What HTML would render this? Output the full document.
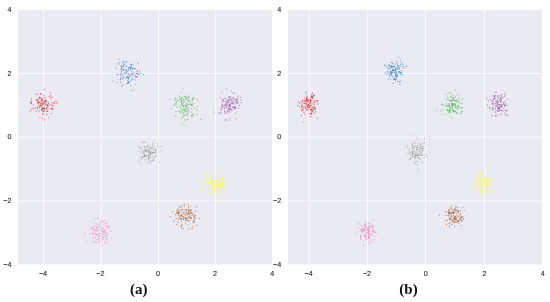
<!DOCTYPE html>
<html><head><meta charset="utf-8"><title>Figure</title>
<style>
html,body{margin:0;padding:0;background:#fff;}
body{width:550px;height:302px;overflow:hidden;}
svg{display:block;}
.t{font-family:"Liberation Sans",sans-serif;font-size:7.2px;fill:#262626;stroke:#262626;stroke-width:0.1px;}
.c{font-family:"Liberation Serif",serif;font-weight:bold;font-size:15px;fill:#111;}
</style></head><body>
<svg width="550" height="302" viewBox="0 0 550 302">
<rect width="550" height="302" fill="#fff"/>
<rect x="18.2" y="10.0" width="254.0" height="254.4" fill="#eaeaf2"/>
<line x1="43.5" x2="43.5" y1="10.0" y2="264.4" stroke="#fff" stroke-opacity="0.78" stroke-width="1"/>
<line x1="100.9" x2="100.9" y1="10.0" y2="264.4" stroke="#fff" stroke-opacity="0.78" stroke-width="1"/>
<line x1="158.5" x2="158.5" y1="10.0" y2="264.4" stroke="#fff" stroke-opacity="0.78" stroke-width="1"/>
<line x1="215.5" x2="215.5" y1="10.0" y2="264.4" stroke="#fff" stroke-opacity="0.78" stroke-width="1"/>
<line x1="18.2" x2="272.2" y1="200.9" y2="200.9" stroke="#fff" stroke-opacity="0.78" stroke-width="1"/>
<line x1="18.2" x2="272.2" y1="137.2" y2="137.2" stroke="#fff" stroke-opacity="0.78" stroke-width="1"/>
<line x1="18.2" x2="272.2" y1="73.4" y2="73.4" stroke="#fff" stroke-opacity="0.78" stroke-width="1"/>
<text x="43.0" y="276" text-anchor="middle" class="t">−4</text>
<text x="11.4" y="266.8" text-anchor="end" class="t">−4</text>
<text x="100.4" y="276" text-anchor="middle" class="t">−2</text>
<text x="11.4" y="203.1" text-anchor="end" class="t">−2</text>
<text x="158.0" y="276" text-anchor="middle" class="t">0</text>
<text x="11.4" y="139.4" text-anchor="end" class="t">0</text>
<text x="215.0" y="276" text-anchor="middle" class="t">2</text>
<text x="11.4" y="75.6" text-anchor="end" class="t">2</text>
<text x="272.2" y="276" text-anchor="middle" class="t">4</text>
<text x="11.4" y="11.9" text-anchor="end" class="t">4</text>
<g fill="#e41a1c" fill-opacity="0.7"><circle cx="45.4" cy="101.0" r="0.6"/><circle cx="40.5" cy="103.1" r="0.6"/><circle cx="31.5" cy="103.0" r="0.6"/><circle cx="44.3" cy="102.3" r="0.6"/><circle cx="41.4" cy="100.4" r="0.6"/><circle cx="37.0" cy="102.1" r="0.6"/><circle cx="45.8" cy="103.0" r="0.6"/><circle cx="48.5" cy="103.2" r="0.6"/><circle cx="43.2" cy="113.8" r="0.6"/><circle cx="46.1" cy="101.4" r="0.6"/><circle cx="42.0" cy="107.7" r="0.6"/><circle cx="54.1" cy="102.8" r="0.6"/><circle cx="41.6" cy="110.5" r="0.6"/><circle cx="38.0" cy="102.7" r="0.6"/><circle cx="48.1" cy="107.9" r="0.6"/><circle cx="43.6" cy="108.5" r="0.6"/><circle cx="37.6" cy="94.3" r="0.6"/><circle cx="44.6" cy="108.7" r="0.6"/><circle cx="40.5" cy="97.9" r="0.6"/><circle cx="43.2" cy="104.1" r="0.6"/><circle cx="51.0" cy="108.9" r="0.6"/><circle cx="44.1" cy="111.2" r="0.6"/><circle cx="41.9" cy="98.8" r="0.6"/><circle cx="46.4" cy="108.0" r="0.6"/><circle cx="41.8" cy="99.7" r="0.6"/><circle cx="44.3" cy="89.3" r="0.6"/><circle cx="47.0" cy="107.4" r="0.6"/><circle cx="33.7" cy="104.8" r="0.6"/><circle cx="37.5" cy="109.0" r="0.6"/><circle cx="31.4" cy="98.9" r="0.6"/><circle cx="47.1" cy="111.4" r="0.6"/><circle cx="30.7" cy="101.4" r="0.6"/><circle cx="44.9" cy="100.7" r="0.6"/><circle cx="52.1" cy="97.2" r="0.6"/><circle cx="45.1" cy="98.1" r="0.6"/><circle cx="51.1" cy="104.3" r="0.6"/><circle cx="40.9" cy="94.0" r="0.6"/><circle cx="52.6" cy="109.0" r="0.6"/><circle cx="47.3" cy="111.3" r="0.6"/><circle cx="45.0" cy="100.6" r="0.6"/><circle cx="38.5" cy="99.6" r="0.6"/><circle cx="50.8" cy="95.6" r="0.6"/><circle cx="39.6" cy="102.5" r="0.6"/><circle cx="44.3" cy="107.9" r="0.6"/><circle cx="35.9" cy="94.0" r="0.6"/><circle cx="43.0" cy="111.8" r="0.6"/><circle cx="47.4" cy="105.7" r="0.6"/><circle cx="41.2" cy="106.2" r="0.6"/><circle cx="41.7" cy="109.4" r="0.6"/><circle cx="38.5" cy="105.2" r="0.6"/><circle cx="42.4" cy="107.7" r="0.6"/><circle cx="44.3" cy="119.9" r="0.6"/><circle cx="51.6" cy="113.5" r="0.6"/><circle cx="31.4" cy="102.4" r="0.6"/><circle cx="39.6" cy="107.6" r="0.6"/><circle cx="30.0" cy="111.5" r="0.6"/><circle cx="49.1" cy="96.5" r="0.6"/><circle cx="37.5" cy="99.6" r="0.6"/><circle cx="43.3" cy="108.3" r="0.6"/><circle cx="54.7" cy="103.2" r="0.6"/><circle cx="47.4" cy="105.4" r="0.6"/><circle cx="53.1" cy="108.9" r="0.6"/><circle cx="50.8" cy="97.9" r="0.6"/><circle cx="41.9" cy="99.5" r="0.6"/><circle cx="51.6" cy="108.4" r="0.6"/><circle cx="41.3" cy="101.7" r="0.6"/><circle cx="45.8" cy="100.2" r="0.6"/><circle cx="37.7" cy="107.3" r="0.6"/><circle cx="57.1" cy="102.9" r="0.6"/><circle cx="39.9" cy="97.3" r="0.6"/><circle cx="35.4" cy="107.6" r="0.6"/><circle cx="47.9" cy="104.5" r="0.6"/><circle cx="44.9" cy="105.1" r="0.6"/><circle cx="43.8" cy="95.2" r="0.6"/><circle cx="40.4" cy="105.1" r="0.6"/><circle cx="38.6" cy="101.5" r="0.6"/><circle cx="38.4" cy="102.4" r="0.6"/><circle cx="47.9" cy="102.0" r="0.6"/><circle cx="42.2" cy="109.4" r="0.6"/><circle cx="46.7" cy="114.7" r="0.6"/><circle cx="31.1" cy="109.6" r="0.6"/><circle cx="40.3" cy="105.2" r="0.6"/><circle cx="47.8" cy="111.0" r="0.6"/><circle cx="49.0" cy="105.4" r="0.6"/><circle cx="52.2" cy="102.7" r="0.6"/><circle cx="42.2" cy="109.3" r="0.6"/><circle cx="39.9" cy="117.5" r="0.6"/><circle cx="48.8" cy="117.6" r="0.6"/><circle cx="42.9" cy="102.1" r="0.6"/><circle cx="44.0" cy="108.9" r="0.6"/><circle cx="39.7" cy="106.7" r="0.6"/><circle cx="42.9" cy="114.2" r="0.6"/><circle cx="39.3" cy="110.8" r="0.6"/><circle cx="39.4" cy="98.6" r="0.6"/><circle cx="39.0" cy="97.2" r="0.6"/><circle cx="43.9" cy="110.7" r="0.6"/><circle cx="44.0" cy="108.2" r="0.6"/><circle cx="52.3" cy="106.1" r="0.6"/><circle cx="44.1" cy="102.8" r="0.6"/><circle cx="33.9" cy="109.0" r="0.6"/><circle cx="33.0" cy="108.4" r="0.6"/><circle cx="43.0" cy="111.2" r="0.6"/><circle cx="42.7" cy="99.4" r="0.6"/><circle cx="45.1" cy="101.0" r="0.6"/><circle cx="42.0" cy="104.7" r="0.6"/><circle cx="42.3" cy="103.3" r="0.6"/><circle cx="38.3" cy="103.3" r="0.6"/><circle cx="30.8" cy="103.5" r="0.6"/><circle cx="36.2" cy="111.2" r="0.6"/><circle cx="50.3" cy="92.6" r="0.6"/><circle cx="43.9" cy="103.7" r="0.6"/><circle cx="37.1" cy="107.6" r="0.6"/><circle cx="40.4" cy="93.7" r="0.6"/><circle cx="41.5" cy="103.5" r="0.6"/><circle cx="43.6" cy="97.0" r="0.6"/><circle cx="46.5" cy="108.9" r="0.6"/><circle cx="36.5" cy="100.4" r="0.6"/><circle cx="42.6" cy="101.0" r="0.6"/><circle cx="53.0" cy="105.7" r="0.6"/><circle cx="37.3" cy="99.7" r="0.6"/><circle cx="42.7" cy="118.3" r="0.6"/><circle cx="42.0" cy="105.2" r="0.6"/><circle cx="46.0" cy="104.2" r="0.6"/><circle cx="56.0" cy="101.2" r="0.6"/><circle cx="47.3" cy="105.4" r="0.6"/></g>
<g fill="#377eb8" fill-opacity="0.7"><circle cx="124.1" cy="63.9" r="0.6"/><circle cx="125.0" cy="69.8" r="0.6"/><circle cx="128.1" cy="83.0" r="0.6"/><circle cx="129.0" cy="77.2" r="0.6"/><circle cx="126.9" cy="71.6" r="0.6"/><circle cx="122.1" cy="62.0" r="0.6"/><circle cx="127.7" cy="83.2" r="0.6"/><circle cx="130.2" cy="69.8" r="0.6"/><circle cx="137.4" cy="70.5" r="0.6"/><circle cx="123.4" cy="65.6" r="0.6"/><circle cx="121.3" cy="71.6" r="0.6"/><circle cx="139.6" cy="71.9" r="0.6"/><circle cx="120.9" cy="69.4" r="0.6"/><circle cx="125.9" cy="62.5" r="0.6"/><circle cx="128.0" cy="77.5" r="0.6"/><circle cx="129.2" cy="76.9" r="0.6"/><circle cx="119.3" cy="62.6" r="0.6"/><circle cx="135.2" cy="79.9" r="0.6"/><circle cx="117.7" cy="74.4" r="0.6"/><circle cx="127.4" cy="76.5" r="0.6"/><circle cx="128.5" cy="70.0" r="0.6"/><circle cx="128.4" cy="74.1" r="0.6"/><circle cx="126.9" cy="61.7" r="0.6"/><circle cx="117.1" cy="74.7" r="0.6"/><circle cx="131.7" cy="74.8" r="0.6"/><circle cx="125.0" cy="73.6" r="0.6"/><circle cx="134.5" cy="68.6" r="0.6"/><circle cx="132.9" cy="77.5" r="0.6"/><circle cx="128.9" cy="82.1" r="0.6"/><circle cx="122.8" cy="79.0" r="0.6"/><circle cx="121.5" cy="68.4" r="0.6"/><circle cx="120.7" cy="75.9" r="0.6"/><circle cx="121.4" cy="73.5" r="0.6"/><circle cx="120.2" cy="79.8" r="0.6"/><circle cx="138.6" cy="74.5" r="0.6"/><circle cx="137.4" cy="76.6" r="0.6"/><circle cx="140.6" cy="73.8" r="0.6"/><circle cx="117.5" cy="82.4" r="0.6"/><circle cx="126.5" cy="66.7" r="0.6"/><circle cx="123.2" cy="63.1" r="0.6"/><circle cx="126.2" cy="66.5" r="0.6"/><circle cx="136.4" cy="77.3" r="0.6"/><circle cx="117.0" cy="63.8" r="0.6"/><circle cx="123.7" cy="61.2" r="0.6"/><circle cx="126.6" cy="72.9" r="0.6"/><circle cx="122.5" cy="69.8" r="0.6"/><circle cx="130.3" cy="82.0" r="0.6"/><circle cx="136.5" cy="73.4" r="0.6"/><circle cx="132.5" cy="68.6" r="0.6"/><circle cx="129.8" cy="67.2" r="0.6"/><circle cx="131.7" cy="65.5" r="0.6"/><circle cx="121.3" cy="73.1" r="0.6"/><circle cx="130.7" cy="64.2" r="0.6"/><circle cx="123.9" cy="74.0" r="0.6"/><circle cx="128.7" cy="67.9" r="0.6"/><circle cx="127.8" cy="71.5" r="0.6"/><circle cx="135.9" cy="76.6" r="0.6"/><circle cx="119.1" cy="59.5" r="0.6"/><circle cx="127.9" cy="80.5" r="0.6"/><circle cx="128.3" cy="78.6" r="0.6"/><circle cx="124.2" cy="64.7" r="0.6"/><circle cx="131.9" cy="73.8" r="0.6"/><circle cx="131.5" cy="64.6" r="0.6"/><circle cx="128.4" cy="69.3" r="0.6"/><circle cx="132.2" cy="69.5" r="0.6"/><circle cx="123.5" cy="69.5" r="0.6"/><circle cx="135.0" cy="73.3" r="0.6"/><circle cx="122.5" cy="66.8" r="0.6"/><circle cx="120.8" cy="82.2" r="0.6"/><circle cx="116.0" cy="67.9" r="0.6"/><circle cx="131.2" cy="80.5" r="0.6"/><circle cx="126.3" cy="78.0" r="0.6"/><circle cx="131.9" cy="79.3" r="0.6"/><circle cx="127.5" cy="83.4" r="0.6"/><circle cx="128.6" cy="82.7" r="0.6"/><circle cx="120.5" cy="79.1" r="0.6"/><circle cx="119.6" cy="64.0" r="0.6"/><circle cx="130.5" cy="68.2" r="0.6"/><circle cx="130.2" cy="66.7" r="0.6"/><circle cx="137.4" cy="73.4" r="0.6"/><circle cx="120.5" cy="74.5" r="0.6"/><circle cx="132.9" cy="68.6" r="0.6"/><circle cx="130.7" cy="86.1" r="0.6"/><circle cx="132.9" cy="73.4" r="0.6"/><circle cx="124.0" cy="77.0" r="0.6"/><circle cx="123.4" cy="66.8" r="0.6"/><circle cx="138.4" cy="74.4" r="0.6"/><circle cx="121.5" cy="66.3" r="0.6"/><circle cx="130.7" cy="68.4" r="0.6"/><circle cx="124.0" cy="73.0" r="0.6"/><circle cx="128.2" cy="74.1" r="0.6"/><circle cx="128.3" cy="81.6" r="0.6"/><circle cx="138.2" cy="63.3" r="0.6"/><circle cx="143.6" cy="74.4" r="0.6"/><circle cx="135.4" cy="69.0" r="0.6"/><circle cx="129.7" cy="74.9" r="0.6"/><circle cx="128.4" cy="78.9" r="0.6"/><circle cx="131.6" cy="67.4" r="0.6"/><circle cx="127.0" cy="78.1" r="0.6"/><circle cx="131.9" cy="71.5" r="0.6"/><circle cx="126.0" cy="72.7" r="0.6"/><circle cx="120.9" cy="65.6" r="0.6"/><circle cx="137.4" cy="71.2" r="0.6"/><circle cx="128.3" cy="69.0" r="0.6"/><circle cx="135.7" cy="84.5" r="0.6"/><circle cx="126.3" cy="76.8" r="0.6"/><circle cx="123.0" cy="84.6" r="0.6"/><circle cx="133.4" cy="68.4" r="0.6"/><circle cx="135.4" cy="75.8" r="0.6"/><circle cx="130.3" cy="75.8" r="0.6"/><circle cx="123.6" cy="70.3" r="0.6"/><circle cx="131.5" cy="73.3" r="0.6"/><circle cx="121.8" cy="86.2" r="0.6"/><circle cx="126.4" cy="70.1" r="0.6"/><circle cx="123.4" cy="77.9" r="0.6"/><circle cx="133.7" cy="75.1" r="0.6"/><circle cx="133.0" cy="64.3" r="0.6"/><circle cx="125.4" cy="70.6" r="0.6"/><circle cx="127.7" cy="76.6" r="0.6"/><circle cx="122.3" cy="75.7" r="0.6"/><circle cx="132.7" cy="78.8" r="0.6"/><circle cx="120.9" cy="78.2" r="0.6"/><circle cx="121.9" cy="66.9" r="0.6"/><circle cx="113.0" cy="81.0" r="0.6"/><circle cx="130.7" cy="67.9" r="0.6"/><circle cx="131.2" cy="90.3" r="0.6"/><circle cx="133.8" cy="89.8" r="0.6"/></g>
<g fill="#4daf4a" fill-opacity="0.7"><circle cx="181.1" cy="99.0" r="0.6"/><circle cx="190.3" cy="102.9" r="0.6"/><circle cx="180.4" cy="112.8" r="0.6"/><circle cx="182.0" cy="110.2" r="0.6"/><circle cx="188.8" cy="101.3" r="0.6"/><circle cx="192.8" cy="99.4" r="0.6"/><circle cx="182.9" cy="105.8" r="0.6"/><circle cx="184.1" cy="110.4" r="0.6"/><circle cx="189.8" cy="104.6" r="0.6"/><circle cx="192.0" cy="100.2" r="0.6"/><circle cx="183.0" cy="116.7" r="0.6"/><circle cx="184.7" cy="112.2" r="0.6"/><circle cx="181.8" cy="103.1" r="0.6"/><circle cx="183.6" cy="106.1" r="0.6"/><circle cx="182.3" cy="105.1" r="0.6"/><circle cx="187.9" cy="113.2" r="0.6"/><circle cx="184.8" cy="109.4" r="0.6"/><circle cx="189.3" cy="97.6" r="0.6"/><circle cx="175.5" cy="116.1" r="0.6"/><circle cx="191.6" cy="105.4" r="0.6"/><circle cx="186.2" cy="98.5" r="0.6"/><circle cx="176.5" cy="107.1" r="0.6"/><circle cx="176.0" cy="111.2" r="0.6"/><circle cx="180.4" cy="107.0" r="0.6"/><circle cx="182.7" cy="112.3" r="0.6"/><circle cx="178.5" cy="101.0" r="0.6"/><circle cx="186.3" cy="114.5" r="0.6"/><circle cx="181.0" cy="108.7" r="0.6"/><circle cx="184.8" cy="96.3" r="0.6"/><circle cx="183.5" cy="115.2" r="0.6"/><circle cx="183.7" cy="108.4" r="0.6"/><circle cx="188.8" cy="99.9" r="0.6"/><circle cx="191.1" cy="115.3" r="0.6"/><circle cx="193.1" cy="113.9" r="0.6"/><circle cx="181.6" cy="100.9" r="0.6"/><circle cx="179.8" cy="98.7" r="0.6"/><circle cx="179.8" cy="111.7" r="0.6"/><circle cx="192.3" cy="100.5" r="0.6"/><circle cx="188.7" cy="96.2" r="0.6"/><circle cx="182.4" cy="98.1" r="0.6"/><circle cx="175.1" cy="105.3" r="0.6"/><circle cx="184.6" cy="102.1" r="0.6"/><circle cx="181.2" cy="98.1" r="0.6"/><circle cx="183.4" cy="100.7" r="0.6"/><circle cx="185.5" cy="96.6" r="0.6"/><circle cx="185.4" cy="108.4" r="0.6"/><circle cx="191.1" cy="112.1" r="0.6"/><circle cx="185.2" cy="100.1" r="0.6"/><circle cx="173.9" cy="104.8" r="0.6"/><circle cx="192.0" cy="116.2" r="0.6"/><circle cx="169.9" cy="99.6" r="0.6"/><circle cx="182.1" cy="97.6" r="0.6"/><circle cx="185.1" cy="105.1" r="0.6"/><circle cx="181.2" cy="104.6" r="0.6"/><circle cx="175.2" cy="98.1" r="0.6"/><circle cx="179.1" cy="111.0" r="0.6"/><circle cx="175.0" cy="103.3" r="0.6"/><circle cx="188.4" cy="104.4" r="0.6"/><circle cx="188.6" cy="100.3" r="0.6"/><circle cx="186.5" cy="111.0" r="0.6"/><circle cx="196.6" cy="109.8" r="0.6"/><circle cx="192.1" cy="104.9" r="0.6"/><circle cx="184.6" cy="115.6" r="0.6"/><circle cx="187.4" cy="114.6" r="0.6"/><circle cx="188.1" cy="119.4" r="0.6"/><circle cx="197.4" cy="99.1" r="0.6"/><circle cx="194.5" cy="107.9" r="0.6"/><circle cx="186.8" cy="104.1" r="0.6"/><circle cx="188.2" cy="97.2" r="0.6"/><circle cx="180.1" cy="99.6" r="0.6"/><circle cx="185.8" cy="111.3" r="0.6"/><circle cx="188.3" cy="107.5" r="0.6"/><circle cx="180.9" cy="92.8" r="0.6"/><circle cx="186.5" cy="105.9" r="0.6"/><circle cx="186.2" cy="114.8" r="0.6"/><circle cx="183.2" cy="103.6" r="0.6"/><circle cx="171.3" cy="108.8" r="0.6"/><circle cx="183.9" cy="99.9" r="0.6"/><circle cx="186.4" cy="97.8" r="0.6"/><circle cx="181.2" cy="118.5" r="0.6"/><circle cx="188.4" cy="111.3" r="0.6"/><circle cx="188.4" cy="109.4" r="0.6"/><circle cx="185.3" cy="120.7" r="0.6"/><circle cx="183.8" cy="110.0" r="0.6"/><circle cx="183.0" cy="102.5" r="0.6"/><circle cx="192.8" cy="115.2" r="0.6"/><circle cx="181.7" cy="104.7" r="0.6"/><circle cx="187.6" cy="98.0" r="0.6"/><circle cx="194.1" cy="97.7" r="0.6"/><circle cx="192.6" cy="105.3" r="0.6"/><circle cx="193.2" cy="98.0" r="0.6"/><circle cx="186.0" cy="105.4" r="0.6"/><circle cx="185.2" cy="119.1" r="0.6"/><circle cx="196.8" cy="114.3" r="0.6"/><circle cx="181.9" cy="111.0" r="0.6"/><circle cx="191.7" cy="108.7" r="0.6"/><circle cx="187.3" cy="108.2" r="0.6"/><circle cx="179.1" cy="106.5" r="0.6"/><circle cx="193.1" cy="98.0" r="0.6"/><circle cx="184.6" cy="110.6" r="0.6"/><circle cx="176.5" cy="103.9" r="0.6"/><circle cx="174.6" cy="100.6" r="0.6"/><circle cx="176.2" cy="98.6" r="0.6"/><circle cx="181.4" cy="102.9" r="0.6"/><circle cx="182.9" cy="88.2" r="0.6"/><circle cx="193.0" cy="102.9" r="0.6"/><circle cx="177.9" cy="100.4" r="0.6"/><circle cx="185.8" cy="97.9" r="0.6"/><circle cx="181.7" cy="101.5" r="0.6"/><circle cx="187.1" cy="99.6" r="0.6"/><circle cx="186.6" cy="107.2" r="0.6"/><circle cx="183.2" cy="113.3" r="0.6"/><circle cx="184.2" cy="96.6" r="0.6"/><circle cx="185.7" cy="105.6" r="0.6"/><circle cx="183.8" cy="106.4" r="0.6"/><circle cx="197.2" cy="106.4" r="0.6"/><circle cx="186.6" cy="103.1" r="0.6"/><circle cx="191.4" cy="104.4" r="0.6"/><circle cx="179.6" cy="96.3" r="0.6"/><circle cx="187.0" cy="109.9" r="0.6"/><circle cx="175.2" cy="99.8" r="0.6"/><circle cx="187.6" cy="111.8" r="0.6"/><circle cx="176.7" cy="101.9" r="0.6"/><circle cx="188.7" cy="101.1" r="0.6"/><circle cx="181.5" cy="101.0" r="0.6"/><circle cx="200.6" cy="119.2" r="0.6"/><circle cx="182.5" cy="124.5" r="0.6"/></g>
<g fill="#984ea3" fill-opacity="0.7"><circle cx="231.1" cy="101.2" r="0.6"/><circle cx="230.0" cy="108.3" r="0.6"/><circle cx="234.2" cy="101.9" r="0.6"/><circle cx="228.7" cy="107.9" r="0.6"/><circle cx="224.8" cy="111.0" r="0.6"/><circle cx="230.4" cy="104.4" r="0.6"/><circle cx="225.0" cy="101.5" r="0.6"/><circle cx="224.6" cy="107.3" r="0.6"/><circle cx="230.9" cy="103.4" r="0.6"/><circle cx="219.8" cy="113.5" r="0.6"/><circle cx="228.8" cy="108.6" r="0.6"/><circle cx="226.8" cy="105.0" r="0.6"/><circle cx="233.8" cy="106.4" r="0.6"/><circle cx="235.2" cy="103.9" r="0.6"/><circle cx="227.4" cy="111.0" r="0.6"/><circle cx="228.9" cy="102.3" r="0.6"/><circle cx="221.1" cy="112.3" r="0.6"/><circle cx="220.4" cy="108.0" r="0.6"/><circle cx="231.2" cy="110.3" r="0.6"/><circle cx="237.7" cy="100.6" r="0.6"/><circle cx="226.0" cy="103.0" r="0.6"/><circle cx="221.3" cy="109.9" r="0.6"/><circle cx="228.1" cy="105.9" r="0.6"/><circle cx="224.3" cy="104.9" r="0.6"/><circle cx="226.9" cy="104.4" r="0.6"/><circle cx="224.5" cy="111.1" r="0.6"/><circle cx="226.7" cy="89.2" r="0.6"/><circle cx="233.4" cy="103.0" r="0.6"/><circle cx="225.5" cy="120.1" r="0.6"/><circle cx="229.8" cy="96.6" r="0.6"/><circle cx="226.9" cy="107.1" r="0.6"/><circle cx="228.9" cy="112.3" r="0.6"/><circle cx="235.5" cy="99.9" r="0.6"/><circle cx="230.2" cy="108.7" r="0.6"/><circle cx="227.9" cy="101.9" r="0.6"/><circle cx="234.5" cy="107.5" r="0.6"/><circle cx="222.8" cy="101.4" r="0.6"/><circle cx="227.9" cy="104.0" r="0.6"/><circle cx="226.3" cy="112.9" r="0.6"/><circle cx="225.0" cy="98.1" r="0.6"/><circle cx="231.1" cy="91.0" r="0.6"/><circle cx="224.7" cy="108.6" r="0.6"/><circle cx="223.2" cy="99.6" r="0.6"/><circle cx="235.6" cy="107.6" r="0.6"/><circle cx="230.3" cy="106.3" r="0.6"/><circle cx="226.6" cy="106.7" r="0.6"/><circle cx="229.0" cy="120.1" r="0.6"/><circle cx="232.8" cy="102.8" r="0.6"/><circle cx="229.8" cy="105.2" r="0.6"/><circle cx="223.0" cy="99.8" r="0.6"/><circle cx="237.9" cy="96.3" r="0.6"/><circle cx="227.1" cy="111.1" r="0.6"/><circle cx="237.9" cy="98.6" r="0.6"/><circle cx="237.6" cy="102.7" r="0.6"/><circle cx="238.6" cy="107.9" r="0.6"/><circle cx="228.7" cy="109.3" r="0.6"/><circle cx="233.0" cy="100.2" r="0.6"/><circle cx="241.2" cy="102.8" r="0.6"/><circle cx="236.1" cy="102.0" r="0.6"/><circle cx="220.8" cy="98.1" r="0.6"/><circle cx="229.7" cy="109.1" r="0.6"/><circle cx="239.2" cy="105.4" r="0.6"/><circle cx="228.7" cy="97.4" r="0.6"/><circle cx="229.9" cy="106.8" r="0.6"/><circle cx="218.8" cy="112.9" r="0.6"/><circle cx="236.0" cy="118.8" r="0.6"/><circle cx="225.5" cy="105.2" r="0.6"/><circle cx="230.2" cy="96.8" r="0.6"/><circle cx="225.8" cy="98.9" r="0.6"/><circle cx="232.8" cy="107.5" r="0.6"/><circle cx="237.1" cy="102.4" r="0.6"/><circle cx="223.0" cy="107.6" r="0.6"/><circle cx="232.0" cy="109.0" r="0.6"/><circle cx="236.5" cy="101.3" r="0.6"/><circle cx="234.2" cy="98.8" r="0.6"/><circle cx="230.9" cy="109.1" r="0.6"/><circle cx="229.5" cy="106.2" r="0.6"/><circle cx="223.0" cy="100.9" r="0.6"/><circle cx="230.9" cy="97.5" r="0.6"/><circle cx="225.7" cy="119.7" r="0.6"/><circle cx="231.4" cy="99.8" r="0.6"/><circle cx="224.8" cy="113.2" r="0.6"/><circle cx="233.0" cy="101.0" r="0.6"/><circle cx="232.4" cy="98.0" r="0.6"/><circle cx="229.6" cy="104.6" r="0.6"/><circle cx="229.7" cy="105.2" r="0.6"/><circle cx="229.8" cy="111.1" r="0.6"/><circle cx="228.3" cy="100.7" r="0.6"/><circle cx="228.1" cy="102.4" r="0.6"/><circle cx="221.8" cy="92.6" r="0.6"/><circle cx="222.6" cy="105.9" r="0.6"/><circle cx="226.1" cy="101.7" r="0.6"/><circle cx="228.5" cy="100.3" r="0.6"/><circle cx="236.6" cy="99.4" r="0.6"/><circle cx="235.9" cy="107.8" r="0.6"/><circle cx="236.7" cy="99.8" r="0.6"/><circle cx="234.2" cy="93.1" r="0.6"/><circle cx="228.7" cy="110.8" r="0.6"/><circle cx="233.1" cy="93.0" r="0.6"/><circle cx="233.1" cy="107.0" r="0.6"/><circle cx="229.2" cy="99.8" r="0.6"/><circle cx="228.1" cy="100.7" r="0.6"/><circle cx="234.4" cy="107.0" r="0.6"/><circle cx="235.0" cy="108.4" r="0.6"/><circle cx="222.9" cy="105.0" r="0.6"/><circle cx="240.5" cy="97.4" r="0.6"/><circle cx="231.0" cy="99.4" r="0.6"/><circle cx="224.9" cy="105.4" r="0.6"/><circle cx="234.2" cy="108.8" r="0.6"/><circle cx="231.9" cy="110.0" r="0.6"/><circle cx="221.1" cy="109.1" r="0.6"/><circle cx="231.6" cy="103.0" r="0.6"/><circle cx="229.5" cy="98.9" r="0.6"/><circle cx="235.5" cy="99.5" r="0.6"/><circle cx="221.9" cy="104.1" r="0.6"/><circle cx="226.5" cy="103.7" r="0.6"/><circle cx="237.3" cy="103.3" r="0.6"/><circle cx="230.1" cy="118.0" r="0.6"/><circle cx="222.3" cy="106.4" r="0.6"/><circle cx="235.5" cy="113.4" r="0.6"/><circle cx="241.1" cy="100.2" r="0.6"/><circle cx="232.7" cy="103.6" r="0.6"/><circle cx="227.2" cy="99.8" r="0.6"/><circle cx="222.0" cy="106.2" r="0.6"/><circle cx="233.4" cy="97.7" r="0.6"/><circle cx="214.2" cy="112.0" r="0.6"/></g>
<g fill="#999999" fill-opacity="0.7"><circle cx="141.0" cy="148.7" r="0.6"/><circle cx="152.7" cy="156.1" r="0.6"/><circle cx="149.0" cy="152.8" r="0.6"/><circle cx="147.2" cy="150.3" r="0.6"/><circle cx="142.8" cy="156.5" r="0.6"/><circle cx="154.9" cy="148.2" r="0.6"/><circle cx="141.8" cy="164.3" r="0.6"/><circle cx="153.8" cy="152.0" r="0.6"/><circle cx="145.0" cy="151.4" r="0.6"/><circle cx="146.3" cy="151.4" r="0.6"/><circle cx="144.2" cy="156.1" r="0.6"/><circle cx="145.1" cy="141.9" r="0.6"/><circle cx="141.2" cy="152.8" r="0.6"/><circle cx="156.1" cy="155.7" r="0.6"/><circle cx="145.5" cy="149.5" r="0.6"/><circle cx="150.8" cy="160.9" r="0.6"/><circle cx="144.7" cy="155.1" r="0.6"/><circle cx="144.6" cy="154.6" r="0.6"/><circle cx="141.9" cy="141.6" r="0.6"/><circle cx="148.4" cy="152.2" r="0.6"/><circle cx="151.8" cy="148.6" r="0.6"/><circle cx="155.3" cy="153.2" r="0.6"/><circle cx="156.2" cy="150.6" r="0.6"/><circle cx="156.0" cy="152.2" r="0.6"/><circle cx="148.7" cy="158.4" r="0.6"/><circle cx="138.5" cy="146.2" r="0.6"/><circle cx="157.8" cy="143.6" r="0.6"/><circle cx="145.3" cy="155.9" r="0.6"/><circle cx="155.8" cy="149.6" r="0.6"/><circle cx="148.7" cy="145.8" r="0.6"/><circle cx="145.9" cy="158.8" r="0.6"/><circle cx="149.7" cy="152.5" r="0.6"/><circle cx="150.3" cy="153.5" r="0.6"/><circle cx="148.9" cy="150.6" r="0.6"/><circle cx="142.8" cy="156.7" r="0.6"/><circle cx="141.9" cy="158.8" r="0.6"/><circle cx="159.4" cy="161.8" r="0.6"/><circle cx="160.4" cy="146.5" r="0.6"/><circle cx="149.4" cy="147.8" r="0.6"/><circle cx="144.1" cy="142.5" r="0.6"/><circle cx="141.6" cy="157.9" r="0.6"/><circle cx="151.9" cy="160.0" r="0.6"/><circle cx="154.2" cy="157.5" r="0.6"/><circle cx="143.9" cy="152.2" r="0.6"/><circle cx="152.1" cy="160.4" r="0.6"/><circle cx="146.2" cy="149.9" r="0.6"/><circle cx="145.9" cy="162.5" r="0.6"/><circle cx="151.3" cy="151.1" r="0.6"/><circle cx="144.2" cy="155.6" r="0.6"/><circle cx="139.3" cy="151.6" r="0.6"/><circle cx="145.3" cy="149.5" r="0.6"/><circle cx="149.4" cy="155.5" r="0.6"/><circle cx="152.0" cy="148.2" r="0.6"/><circle cx="139.5" cy="159.9" r="0.6"/><circle cx="158.8" cy="147.1" r="0.6"/><circle cx="148.0" cy="159.7" r="0.6"/><circle cx="148.9" cy="138.8" r="0.6"/><circle cx="153.8" cy="152.3" r="0.6"/><circle cx="152.3" cy="147.4" r="0.6"/><circle cx="153.1" cy="159.3" r="0.6"/><circle cx="144.6" cy="156.1" r="0.6"/><circle cx="145.0" cy="150.1" r="0.6"/><circle cx="143.6" cy="150.5" r="0.6"/><circle cx="144.8" cy="160.1" r="0.6"/><circle cx="147.2" cy="146.4" r="0.6"/><circle cx="155.7" cy="156.4" r="0.6"/><circle cx="153.7" cy="152.8" r="0.6"/><circle cx="152.1" cy="152.6" r="0.6"/><circle cx="143.4" cy="153.8" r="0.6"/><circle cx="149.2" cy="154.0" r="0.6"/><circle cx="152.9" cy="142.9" r="0.6"/><circle cx="150.1" cy="148.4" r="0.6"/><circle cx="147.0" cy="155.9" r="0.6"/><circle cx="148.9" cy="149.2" r="0.6"/><circle cx="152.5" cy="152.9" r="0.6"/><circle cx="153.5" cy="160.6" r="0.6"/><circle cx="146.7" cy="146.8" r="0.6"/><circle cx="149.0" cy="158.2" r="0.6"/><circle cx="150.3" cy="146.4" r="0.6"/><circle cx="139.6" cy="147.7" r="0.6"/><circle cx="143.6" cy="157.1" r="0.6"/><circle cx="149.0" cy="158.6" r="0.6"/><circle cx="148.2" cy="163.3" r="0.6"/><circle cx="148.7" cy="156.7" r="0.6"/><circle cx="146.5" cy="156.1" r="0.6"/><circle cx="154.4" cy="158.0" r="0.6"/><circle cx="155.4" cy="149.8" r="0.6"/><circle cx="151.1" cy="163.6" r="0.6"/><circle cx="150.0" cy="152.5" r="0.6"/><circle cx="147.5" cy="150.3" r="0.6"/><circle cx="149.5" cy="161.7" r="0.6"/><circle cx="151.1" cy="153.3" r="0.6"/><circle cx="144.5" cy="146.7" r="0.6"/><circle cx="161.3" cy="150.7" r="0.6"/><circle cx="149.2" cy="150.6" r="0.6"/><circle cx="149.6" cy="150.9" r="0.6"/><circle cx="149.2" cy="162.0" r="0.6"/><circle cx="144.8" cy="156.5" r="0.6"/><circle cx="148.3" cy="157.6" r="0.6"/><circle cx="145.0" cy="155.7" r="0.6"/><circle cx="143.4" cy="142.6" r="0.6"/><circle cx="141.7" cy="147.6" r="0.6"/><circle cx="142.6" cy="151.3" r="0.6"/><circle cx="154.2" cy="146.5" r="0.6"/><circle cx="150.8" cy="154.0" r="0.6"/><circle cx="144.7" cy="147.6" r="0.6"/><circle cx="150.6" cy="155.9" r="0.6"/><circle cx="146.6" cy="152.2" r="0.6"/><circle cx="148.3" cy="145.3" r="0.6"/><circle cx="148.9" cy="154.9" r="0.6"/><circle cx="157.5" cy="145.6" r="0.6"/><circle cx="143.8" cy="153.5" r="0.6"/><circle cx="145.3" cy="150.7" r="0.6"/><circle cx="148.4" cy="151.3" r="0.6"/><circle cx="148.2" cy="155.6" r="0.6"/><circle cx="139.9" cy="156.3" r="0.6"/><circle cx="153.2" cy="149.5" r="0.6"/><circle cx="153.7" cy="152.2" r="0.6"/><circle cx="150.6" cy="157.5" r="0.6"/><circle cx="150.2" cy="153.1" r="0.6"/><circle cx="151.6" cy="152.0" r="0.6"/><circle cx="146.4" cy="147.6" r="0.6"/><circle cx="139.0" cy="162.4" r="0.6"/><circle cx="152.5" cy="145.0" r="0.6"/><circle cx="150.5" cy="154.3" r="0.6"/></g>
<g fill="#ffff33" fill-opacity="0.7"><circle cx="217.9" cy="168.8" r="0.6"/><circle cx="211.8" cy="175.0" r="0.6"/><circle cx="200.3" cy="190.9" r="0.6"/><circle cx="221.7" cy="181.0" r="0.6"/><circle cx="210.5" cy="192.6" r="0.6"/><circle cx="222.5" cy="183.6" r="0.6"/><circle cx="220.2" cy="184.3" r="0.6"/><circle cx="211.8" cy="187.6" r="0.6"/><circle cx="211.0" cy="187.5" r="0.6"/><circle cx="212.3" cy="180.7" r="0.6"/><circle cx="210.0" cy="186.6" r="0.6"/><circle cx="220.6" cy="186.4" r="0.6"/><circle cx="207.9" cy="187.6" r="0.6"/><circle cx="207.7" cy="176.4" r="0.6"/><circle cx="212.6" cy="188.9" r="0.6"/><circle cx="218.9" cy="187.3" r="0.6"/><circle cx="223.7" cy="189.2" r="0.6"/><circle cx="211.6" cy="188.8" r="0.6"/><circle cx="212.2" cy="186.3" r="0.6"/><circle cx="218.3" cy="183.3" r="0.6"/><circle cx="203.8" cy="182.9" r="0.6"/><circle cx="212.1" cy="183.2" r="0.6"/><circle cx="211.3" cy="176.7" r="0.6"/><circle cx="203.1" cy="188.2" r="0.6"/><circle cx="219.9" cy="186.4" r="0.6"/><circle cx="214.1" cy="196.5" r="0.6"/><circle cx="219.1" cy="184.2" r="0.6"/><circle cx="220.2" cy="183.6" r="0.6"/><circle cx="219.4" cy="185.9" r="0.6"/><circle cx="218.3" cy="184.5" r="0.6"/><circle cx="211.4" cy="187.4" r="0.6"/><circle cx="222.4" cy="178.3" r="0.6"/><circle cx="210.9" cy="177.2" r="0.6"/><circle cx="220.7" cy="182.8" r="0.6"/><circle cx="220.8" cy="179.2" r="0.6"/><circle cx="220.4" cy="180.6" r="0.6"/><circle cx="211.4" cy="187.7" r="0.6"/><circle cx="211.9" cy="180.4" r="0.6"/><circle cx="220.9" cy="183.8" r="0.6"/><circle cx="210.8" cy="182.1" r="0.6"/><circle cx="204.1" cy="176.8" r="0.6"/><circle cx="218.9" cy="186.2" r="0.6"/><circle cx="216.6" cy="187.2" r="0.6"/><circle cx="208.8" cy="173.6" r="0.6"/><circle cx="222.2" cy="185.9" r="0.6"/><circle cx="222.6" cy="184.1" r="0.6"/><circle cx="220.0" cy="181.0" r="0.6"/><circle cx="214.7" cy="183.3" r="0.6"/><circle cx="217.3" cy="193.2" r="0.6"/><circle cx="214.0" cy="184.4" r="0.6"/><circle cx="220.3" cy="185.2" r="0.6"/><circle cx="209.9" cy="179.3" r="0.6"/><circle cx="212.4" cy="179.8" r="0.6"/><circle cx="224.7" cy="188.2" r="0.6"/><circle cx="215.2" cy="190.5" r="0.6"/><circle cx="229.7" cy="183.0" r="0.6"/><circle cx="214.6" cy="182.5" r="0.6"/><circle cx="206.3" cy="180.4" r="0.6"/><circle cx="208.3" cy="187.4" r="0.6"/><circle cx="217.9" cy="189.9" r="0.6"/><circle cx="209.4" cy="190.7" r="0.6"/><circle cx="208.1" cy="183.2" r="0.6"/><circle cx="223.8" cy="192.2" r="0.6"/><circle cx="222.4" cy="197.8" r="0.6"/><circle cx="222.1" cy="182.9" r="0.6"/><circle cx="213.4" cy="179.6" r="0.6"/><circle cx="216.5" cy="179.7" r="0.6"/><circle cx="210.6" cy="178.3" r="0.6"/><circle cx="221.1" cy="171.3" r="0.6"/><circle cx="218.0" cy="180.9" r="0.6"/><circle cx="200.1" cy="183.1" r="0.6"/><circle cx="216.4" cy="188.2" r="0.6"/><circle cx="222.6" cy="179.1" r="0.6"/><circle cx="214.6" cy="188.7" r="0.6"/><circle cx="218.7" cy="187.0" r="0.6"/><circle cx="215.7" cy="192.4" r="0.6"/><circle cx="206.2" cy="175.1" r="0.6"/><circle cx="227.1" cy="187.2" r="0.6"/><circle cx="222.7" cy="186.0" r="0.6"/><circle cx="212.5" cy="181.7" r="0.6"/><circle cx="216.0" cy="181.6" r="0.6"/><circle cx="214.6" cy="184.1" r="0.6"/><circle cx="220.8" cy="189.7" r="0.6"/><circle cx="226.2" cy="180.2" r="0.6"/><circle cx="214.9" cy="190.8" r="0.6"/><circle cx="217.7" cy="169.3" r="0.6"/><circle cx="217.8" cy="184.8" r="0.6"/><circle cx="212.0" cy="182.2" r="0.6"/><circle cx="210.4" cy="192.3" r="0.6"/><circle cx="220.1" cy="186.3" r="0.6"/><circle cx="223.2" cy="190.9" r="0.6"/><circle cx="209.8" cy="178.3" r="0.6"/><circle cx="208.5" cy="189.8" r="0.6"/><circle cx="215.4" cy="192.7" r="0.6"/><circle cx="219.2" cy="183.8" r="0.6"/><circle cx="206.9" cy="183.5" r="0.6"/><circle cx="231.1" cy="180.8" r="0.6"/><circle cx="210.0" cy="183.8" r="0.6"/><circle cx="225.1" cy="184.9" r="0.6"/><circle cx="208.1" cy="181.3" r="0.6"/><circle cx="214.8" cy="185.7" r="0.6"/><circle cx="225.1" cy="189.2" r="0.6"/><circle cx="215.6" cy="180.1" r="0.6"/><circle cx="219.7" cy="193.3" r="0.6"/><circle cx="221.4" cy="184.4" r="0.6"/><circle cx="220.3" cy="183.8" r="0.6"/><circle cx="214.6" cy="183.7" r="0.6"/><circle cx="216.2" cy="184.7" r="0.6"/><circle cx="222.6" cy="185.2" r="0.6"/><circle cx="215.0" cy="191.7" r="0.6"/><circle cx="220.4" cy="192.2" r="0.6"/><circle cx="210.3" cy="193.3" r="0.6"/><circle cx="215.5" cy="178.4" r="0.6"/><circle cx="214.4" cy="177.3" r="0.6"/><circle cx="208.6" cy="182.4" r="0.6"/><circle cx="222.0" cy="176.5" r="0.6"/><circle cx="217.4" cy="183.3" r="0.6"/><circle cx="226.1" cy="186.1" r="0.6"/><circle cx="219.5" cy="193.7" r="0.6"/><circle cx="207.9" cy="182.7" r="0.6"/><circle cx="205.1" cy="179.6" r="0.6"/><circle cx="217.5" cy="183.8" r="0.6"/><circle cx="218.0" cy="182.3" r="0.6"/><circle cx="210.5" cy="183.9" r="0.6"/><circle cx="209.2" cy="177.7" r="0.6"/></g>
<g fill="#a65628" fill-opacity="0.7"><circle cx="181.9" cy="214.3" r="0.6"/><circle cx="180.9" cy="207.5" r="0.6"/><circle cx="178.1" cy="212.7" r="0.6"/><circle cx="186.7" cy="218.9" r="0.6"/><circle cx="196.7" cy="225.3" r="0.6"/><circle cx="182.8" cy="210.8" r="0.6"/><circle cx="191.2" cy="209.9" r="0.6"/><circle cx="193.5" cy="220.8" r="0.6"/><circle cx="180.9" cy="219.2" r="0.6"/><circle cx="195.5" cy="217.6" r="0.6"/><circle cx="185.0" cy="214.1" r="0.6"/><circle cx="189.7" cy="210.9" r="0.6"/><circle cx="188.9" cy="213.7" r="0.6"/><circle cx="182.4" cy="209.6" r="0.6"/><circle cx="190.3" cy="210.0" r="0.6"/><circle cx="188.2" cy="204.7" r="0.6"/><circle cx="185.7" cy="215.7" r="0.6"/><circle cx="189.0" cy="220.4" r="0.6"/><circle cx="190.1" cy="218.2" r="0.6"/><circle cx="185.2" cy="209.3" r="0.6"/><circle cx="179.8" cy="210.8" r="0.6"/><circle cx="188.4" cy="220.8" r="0.6"/><circle cx="189.0" cy="216.2" r="0.6"/><circle cx="191.5" cy="213.3" r="0.6"/><circle cx="188.0" cy="214.5" r="0.6"/><circle cx="188.2" cy="213.9" r="0.6"/><circle cx="179.1" cy="213.0" r="0.6"/><circle cx="182.0" cy="224.8" r="0.6"/><circle cx="195.5" cy="211.6" r="0.6"/><circle cx="181.7" cy="215.2" r="0.6"/><circle cx="177.8" cy="222.0" r="0.6"/><circle cx="186.5" cy="212.4" r="0.6"/><circle cx="193.1" cy="222.2" r="0.6"/><circle cx="187.7" cy="220.6" r="0.6"/><circle cx="176.7" cy="210.7" r="0.6"/><circle cx="181.6" cy="205.9" r="0.6"/><circle cx="192.0" cy="228.4" r="0.6"/><circle cx="178.7" cy="211.8" r="0.6"/><circle cx="193.1" cy="213.3" r="0.6"/><circle cx="186.6" cy="210.4" r="0.6"/><circle cx="188.7" cy="209.4" r="0.6"/><circle cx="191.2" cy="217.8" r="0.6"/><circle cx="188.9" cy="210.6" r="0.6"/><circle cx="185.3" cy="217.5" r="0.6"/><circle cx="181.2" cy="209.4" r="0.6"/><circle cx="172.9" cy="211.8" r="0.6"/><circle cx="185.7" cy="220.1" r="0.6"/><circle cx="179.3" cy="206.7" r="0.6"/><circle cx="193.9" cy="220.9" r="0.6"/><circle cx="179.7" cy="212.0" r="0.6"/><circle cx="175.6" cy="214.4" r="0.6"/><circle cx="194.4" cy="219.2" r="0.6"/><circle cx="180.2" cy="216.4" r="0.6"/><circle cx="182.2" cy="216.6" r="0.6"/><circle cx="183.3" cy="218.3" r="0.6"/><circle cx="194.2" cy="216.6" r="0.6"/><circle cx="188.8" cy="217.0" r="0.6"/><circle cx="191.9" cy="212.5" r="0.6"/><circle cx="185.6" cy="214.0" r="0.6"/><circle cx="194.6" cy="215.8" r="0.6"/><circle cx="190.1" cy="212.8" r="0.6"/><circle cx="178.5" cy="213.2" r="0.6"/><circle cx="189.5" cy="213.2" r="0.6"/><circle cx="183.2" cy="212.8" r="0.6"/><circle cx="189.8" cy="217.3" r="0.6"/><circle cx="186.7" cy="209.6" r="0.6"/><circle cx="185.6" cy="218.3" r="0.6"/><circle cx="188.5" cy="207.2" r="0.6"/><circle cx="194.6" cy="215.3" r="0.6"/><circle cx="181.3" cy="219.1" r="0.6"/><circle cx="183.2" cy="216.6" r="0.6"/><circle cx="178.7" cy="213.9" r="0.6"/><circle cx="190.6" cy="212.2" r="0.6"/><circle cx="178.2" cy="210.3" r="0.6"/><circle cx="190.7" cy="206.0" r="0.6"/><circle cx="178.3" cy="219.1" r="0.6"/><circle cx="187.3" cy="214.5" r="0.6"/><circle cx="183.9" cy="217.0" r="0.6"/><circle cx="191.5" cy="217.3" r="0.6"/><circle cx="176.1" cy="218.3" r="0.6"/><circle cx="176.6" cy="224.3" r="0.6"/><circle cx="183.9" cy="218.2" r="0.6"/><circle cx="188.5" cy="211.2" r="0.6"/><circle cx="193.8" cy="216.1" r="0.6"/><circle cx="199.4" cy="218.6" r="0.6"/><circle cx="188.7" cy="228.9" r="0.6"/><circle cx="195.1" cy="215.1" r="0.6"/><circle cx="182.0" cy="225.8" r="0.6"/><circle cx="194.2" cy="221.9" r="0.6"/><circle cx="184.9" cy="211.7" r="0.6"/><circle cx="181.5" cy="221.5" r="0.6"/><circle cx="185.9" cy="218.8" r="0.6"/><circle cx="173.8" cy="220.8" r="0.6"/><circle cx="179.1" cy="217.3" r="0.6"/><circle cx="178.4" cy="215.6" r="0.6"/><circle cx="177.2" cy="212.4" r="0.6"/><circle cx="180.3" cy="215.3" r="0.6"/><circle cx="177.5" cy="212.8" r="0.6"/><circle cx="181.3" cy="215.4" r="0.6"/><circle cx="186.0" cy="220.3" r="0.6"/><circle cx="187.9" cy="224.6" r="0.6"/><circle cx="176.7" cy="213.3" r="0.6"/><circle cx="191.2" cy="215.3" r="0.6"/><circle cx="170.5" cy="216.6" r="0.6"/><circle cx="183.5" cy="228.6" r="0.6"/><circle cx="185.9" cy="218.6" r="0.6"/><circle cx="180.7" cy="218.7" r="0.6"/><circle cx="184.2" cy="205.8" r="0.6"/><circle cx="192.5" cy="214.9" r="0.6"/><circle cx="196.7" cy="206.8" r="0.6"/><circle cx="181.5" cy="218.5" r="0.6"/><circle cx="183.5" cy="219.5" r="0.6"/><circle cx="190.6" cy="210.6" r="0.6"/><circle cx="187.4" cy="217.9" r="0.6"/><circle cx="188.1" cy="213.7" r="0.6"/><circle cx="183.7" cy="213.6" r="0.6"/><circle cx="192.7" cy="226.6" r="0.6"/><circle cx="178.0" cy="209.2" r="0.6"/><circle cx="185.7" cy="223.1" r="0.6"/><circle cx="181.4" cy="228.1" r="0.6"/><circle cx="190.9" cy="218.4" r="0.6"/><circle cx="184.2" cy="204.4" r="0.6"/><circle cx="188.5" cy="212.8" r="0.6"/><circle cx="194.0" cy="218.3" r="0.6"/><circle cx="181.1" cy="226.2" r="0.6"/></g>
<g fill="#f781bf" fill-opacity="0.7"><circle cx="97.3" cy="234.1" r="0.6"/><circle cx="107.0" cy="222.8" r="0.6"/><circle cx="93.6" cy="241.7" r="0.6"/><circle cx="106.5" cy="242.7" r="0.6"/><circle cx="99.1" cy="238.3" r="0.6"/><circle cx="84.4" cy="234.5" r="0.6"/><circle cx="93.3" cy="222.5" r="0.6"/><circle cx="92.5" cy="238.1" r="0.6"/><circle cx="108.4" cy="228.5" r="0.6"/><circle cx="97.1" cy="239.3" r="0.6"/><circle cx="95.1" cy="233.3" r="0.6"/><circle cx="103.1" cy="239.4" r="0.6"/><circle cx="98.0" cy="236.1" r="0.6"/><circle cx="96.4" cy="228.0" r="0.6"/><circle cx="93.4" cy="234.5" r="0.6"/><circle cx="100.3" cy="233.4" r="0.6"/><circle cx="99.3" cy="239.9" r="0.6"/><circle cx="101.3" cy="231.2" r="0.6"/><circle cx="92.4" cy="229.0" r="0.6"/><circle cx="99.3" cy="241.2" r="0.6"/><circle cx="102.3" cy="229.6" r="0.6"/><circle cx="104.0" cy="235.8" r="0.6"/><circle cx="96.6" cy="234.7" r="0.6"/><circle cx="92.6" cy="232.4" r="0.6"/><circle cx="111.8" cy="238.1" r="0.6"/><circle cx="103.2" cy="237.4" r="0.6"/><circle cx="103.7" cy="224.3" r="0.6"/><circle cx="96.6" cy="227.4" r="0.6"/><circle cx="102.3" cy="237.7" r="0.6"/><circle cx="112.0" cy="230.9" r="0.6"/><circle cx="92.5" cy="233.7" r="0.6"/><circle cx="99.2" cy="233.5" r="0.6"/><circle cx="99.6" cy="235.1" r="0.6"/><circle cx="95.9" cy="233.8" r="0.6"/><circle cx="105.5" cy="233.0" r="0.6"/><circle cx="102.9" cy="227.8" r="0.6"/><circle cx="104.8" cy="231.2" r="0.6"/><circle cx="95.5" cy="230.5" r="0.6"/><circle cx="97.1" cy="230.8" r="0.6"/><circle cx="96.1" cy="242.8" r="0.6"/><circle cx="105.0" cy="234.9" r="0.6"/><circle cx="102.3" cy="231.3" r="0.6"/><circle cx="104.5" cy="230.4" r="0.6"/><circle cx="99.0" cy="226.9" r="0.6"/><circle cx="106.8" cy="239.4" r="0.6"/><circle cx="106.1" cy="239.0" r="0.6"/><circle cx="84.9" cy="232.4" r="0.6"/><circle cx="105.6" cy="235.0" r="0.6"/><circle cx="89.8" cy="233.7" r="0.6"/><circle cx="103.5" cy="228.3" r="0.6"/><circle cx="92.3" cy="227.8" r="0.6"/><circle cx="94.0" cy="229.5" r="0.6"/><circle cx="98.1" cy="230.9" r="0.6"/><circle cx="108.7" cy="226.0" r="0.6"/><circle cx="97.6" cy="217.7" r="0.6"/><circle cx="94.9" cy="219.0" r="0.6"/><circle cx="103.6" cy="231.1" r="0.6"/><circle cx="95.2" cy="236.9" r="0.6"/><circle cx="92.6" cy="230.1" r="0.6"/><circle cx="93.9" cy="225.3" r="0.6"/><circle cx="97.5" cy="227.4" r="0.6"/><circle cx="98.0" cy="224.2" r="0.6"/><circle cx="89.4" cy="240.0" r="0.6"/><circle cx="101.3" cy="229.0" r="0.6"/><circle cx="100.3" cy="224.9" r="0.6"/><circle cx="101.3" cy="222.0" r="0.6"/><circle cx="101.9" cy="233.8" r="0.6"/><circle cx="98.7" cy="236.1" r="0.6"/><circle cx="98.6" cy="242.3" r="0.6"/><circle cx="103.0" cy="221.7" r="0.6"/><circle cx="93.0" cy="242.1" r="0.6"/><circle cx="95.8" cy="233.8" r="0.6"/><circle cx="95.8" cy="241.3" r="0.6"/><circle cx="105.9" cy="236.8" r="0.6"/><circle cx="96.8" cy="229.7" r="0.6"/><circle cx="107.8" cy="228.2" r="0.6"/><circle cx="86.2" cy="241.8" r="0.6"/><circle cx="105.4" cy="223.4" r="0.6"/><circle cx="101.1" cy="235.7" r="0.6"/><circle cx="100.8" cy="242.5" r="0.6"/><circle cx="107.1" cy="226.8" r="0.6"/><circle cx="98.6" cy="237.9" r="0.6"/><circle cx="105.3" cy="229.7" r="0.6"/><circle cx="106.5" cy="226.6" r="0.6"/><circle cx="104.6" cy="220.5" r="0.6"/><circle cx="102.5" cy="245.2" r="0.6"/><circle cx="108.8" cy="226.6" r="0.6"/><circle cx="106.1" cy="232.6" r="0.6"/><circle cx="101.0" cy="222.9" r="0.6"/><circle cx="96.1" cy="223.5" r="0.6"/><circle cx="91.4" cy="228.1" r="0.6"/><circle cx="108.0" cy="234.0" r="0.6"/><circle cx="94.5" cy="230.6" r="0.6"/><circle cx="93.4" cy="227.8" r="0.6"/><circle cx="100.3" cy="221.8" r="0.6"/><circle cx="100.9" cy="227.4" r="0.6"/><circle cx="105.8" cy="225.4" r="0.6"/><circle cx="100.4" cy="225.9" r="0.6"/><circle cx="102.2" cy="220.1" r="0.6"/><circle cx="95.8" cy="225.8" r="0.6"/><circle cx="89.2" cy="229.0" r="0.6"/><circle cx="97.8" cy="227.5" r="0.6"/><circle cx="92.7" cy="226.9" r="0.6"/><circle cx="94.5" cy="238.2" r="0.6"/><circle cx="102.3" cy="240.0" r="0.6"/><circle cx="104.9" cy="243.3" r="0.6"/><circle cx="99.6" cy="233.6" r="0.6"/><circle cx="100.0" cy="229.4" r="0.6"/><circle cx="103.6" cy="234.5" r="0.6"/><circle cx="102.7" cy="233.8" r="0.6"/><circle cx="106.1" cy="223.1" r="0.6"/><circle cx="103.3" cy="231.9" r="0.6"/><circle cx="95.9" cy="230.1" r="0.6"/><circle cx="102.9" cy="237.5" r="0.6"/><circle cx="98.5" cy="236.8" r="0.6"/><circle cx="102.1" cy="238.9" r="0.6"/><circle cx="106.1" cy="237.2" r="0.6"/><circle cx="97.7" cy="225.2" r="0.6"/><circle cx="108.4" cy="227.1" r="0.6"/><circle cx="105.0" cy="232.8" r="0.6"/><circle cx="110.0" cy="231.6" r="0.6"/><circle cx="98.1" cy="219.2" r="0.6"/><circle cx="103.7" cy="232.3" r="0.6"/><circle cx="96.3" cy="229.8" r="0.6"/><circle cx="107.7" cy="234.9" r="0.6"/></g>
<rect x="288.0" y="10.0" width="254.0" height="254.4" fill="#eaeaf2"/>
<line x1="309.1" x2="309.1" y1="10.0" y2="264.4" stroke="#fff" stroke-opacity="0.78" stroke-width="1"/>
<line x1="367.5" x2="367.5" y1="10.0" y2="264.4" stroke="#fff" stroke-opacity="0.78" stroke-width="1"/>
<line x1="425.5" x2="425.5" y1="10.0" y2="264.4" stroke="#fff" stroke-opacity="0.78" stroke-width="1"/>
<line x1="484.5" x2="484.5" y1="10.0" y2="264.4" stroke="#fff" stroke-opacity="0.78" stroke-width="1"/>
<line x1="288.0" x2="542.0" y1="200.9" y2="200.9" stroke="#fff" stroke-opacity="0.78" stroke-width="1"/>
<line x1="288.0" x2="542.0" y1="137.2" y2="137.2" stroke="#fff" stroke-opacity="0.78" stroke-width="1"/>
<line x1="288.0" x2="542.0" y1="73.4" y2="73.4" stroke="#fff" stroke-opacity="0.78" stroke-width="1"/>
<text x="308.6" y="276" text-anchor="middle" class="t">−4</text>
<text x="281.2" y="266.8" text-anchor="end" class="t">−4</text>
<text x="367.0" y="276" text-anchor="middle" class="t">−2</text>
<text x="281.2" y="203.1" text-anchor="end" class="t">−2</text>
<text x="425.8" y="276" text-anchor="middle" class="t">0</text>
<text x="281.2" y="139.4" text-anchor="end" class="t">0</text>
<text x="484.4" y="276" text-anchor="middle" class="t">2</text>
<text x="281.2" y="75.6" text-anchor="end" class="t">2</text>
<text x="542.7" y="276" text-anchor="middle" class="t">4</text>
<text x="281.2" y="11.9" text-anchor="end" class="t">4</text>
<g fill="#e41a1c" fill-opacity="0.7"><circle cx="311.7" cy="94.8" r="0.6"/><circle cx="317.9" cy="100.7" r="0.6"/><circle cx="301.9" cy="107.9" r="0.6"/><circle cx="312.8" cy="111.6" r="0.6"/><circle cx="310.5" cy="101.1" r="0.6"/><circle cx="307.6" cy="105.5" r="0.6"/><circle cx="312.0" cy="109.9" r="0.6"/><circle cx="311.3" cy="109.3" r="0.6"/><circle cx="298.8" cy="101.9" r="0.6"/><circle cx="313.3" cy="102.3" r="0.6"/><circle cx="308.0" cy="101.0" r="0.6"/><circle cx="307.7" cy="101.3" r="0.6"/><circle cx="299.6" cy="106.8" r="0.6"/><circle cx="310.1" cy="100.0" r="0.6"/><circle cx="299.5" cy="102.9" r="0.6"/><circle cx="302.8" cy="109.9" r="0.6"/><circle cx="307.0" cy="96.0" r="0.6"/><circle cx="305.0" cy="114.1" r="0.6"/><circle cx="307.2" cy="100.0" r="0.6"/><circle cx="306.7" cy="98.1" r="0.6"/><circle cx="311.6" cy="96.8" r="0.6"/><circle cx="310.4" cy="109.9" r="0.6"/><circle cx="311.9" cy="103.8" r="0.6"/><circle cx="306.2" cy="104.7" r="0.6"/><circle cx="309.2" cy="107.5" r="0.6"/><circle cx="308.1" cy="105.9" r="0.6"/><circle cx="306.2" cy="100.3" r="0.6"/><circle cx="312.9" cy="106.9" r="0.6"/><circle cx="311.2" cy="113.5" r="0.6"/><circle cx="305.1" cy="101.4" r="0.6"/><circle cx="306.6" cy="109.3" r="0.6"/><circle cx="302.1" cy="101.1" r="0.6"/><circle cx="311.6" cy="96.4" r="0.6"/><circle cx="311.2" cy="113.2" r="0.6"/><circle cx="310.0" cy="100.3" r="0.6"/><circle cx="306.3" cy="99.5" r="0.6"/><circle cx="307.9" cy="109.8" r="0.6"/><circle cx="312.6" cy="92.9" r="0.6"/><circle cx="305.0" cy="106.5" r="0.6"/><circle cx="306.8" cy="91.8" r="0.6"/><circle cx="309.2" cy="107.6" r="0.6"/><circle cx="308.3" cy="104.4" r="0.6"/><circle cx="312.3" cy="97.2" r="0.6"/><circle cx="307.0" cy="106.9" r="0.6"/><circle cx="311.6" cy="114.0" r="0.6"/><circle cx="311.6" cy="109.4" r="0.6"/><circle cx="313.7" cy="95.4" r="0.6"/><circle cx="310.5" cy="102.4" r="0.6"/><circle cx="314.9" cy="107.1" r="0.6"/><circle cx="309.4" cy="105.8" r="0.6"/><circle cx="303.0" cy="109.8" r="0.6"/><circle cx="301.4" cy="103.8" r="0.6"/><circle cx="306.8" cy="110.1" r="0.6"/><circle cx="308.4" cy="100.3" r="0.6"/><circle cx="311.3" cy="114.1" r="0.6"/><circle cx="304.0" cy="112.3" r="0.6"/><circle cx="305.5" cy="103.7" r="0.6"/><circle cx="307.5" cy="99.3" r="0.6"/><circle cx="315.3" cy="109.1" r="0.6"/><circle cx="311.0" cy="97.7" r="0.6"/><circle cx="311.2" cy="100.2" r="0.6"/><circle cx="314.3" cy="95.5" r="0.6"/><circle cx="311.5" cy="96.6" r="0.6"/><circle cx="302.0" cy="106.1" r="0.6"/><circle cx="312.1" cy="110.9" r="0.6"/><circle cx="306.7" cy="102.0" r="0.6"/><circle cx="312.4" cy="98.7" r="0.6"/><circle cx="303.5" cy="107.7" r="0.6"/><circle cx="310.4" cy="105.4" r="0.6"/><circle cx="313.8" cy="96.1" r="0.6"/><circle cx="310.4" cy="116.7" r="0.6"/><circle cx="306.6" cy="98.2" r="0.6"/><circle cx="313.8" cy="107.9" r="0.6"/><circle cx="313.7" cy="108.8" r="0.6"/><circle cx="306.5" cy="103.9" r="0.6"/><circle cx="304.5" cy="103.2" r="0.6"/><circle cx="305.6" cy="107.4" r="0.6"/><circle cx="314.6" cy="102.3" r="0.6"/><circle cx="310.4" cy="109.0" r="0.6"/><circle cx="318.0" cy="103.9" r="0.6"/><circle cx="309.7" cy="113.9" r="0.6"/><circle cx="302.3" cy="105.0" r="0.6"/><circle cx="308.9" cy="99.1" r="0.6"/><circle cx="307.6" cy="106.2" r="0.6"/><circle cx="313.3" cy="110.0" r="0.6"/><circle cx="306.2" cy="100.1" r="0.6"/><circle cx="312.6" cy="96.9" r="0.6"/><circle cx="306.2" cy="99.0" r="0.6"/><circle cx="301.7" cy="106.4" r="0.6"/><circle cx="302.3" cy="101.6" r="0.6"/><circle cx="313.8" cy="113.2" r="0.6"/><circle cx="302.6" cy="100.0" r="0.6"/><circle cx="304.7" cy="97.8" r="0.6"/><circle cx="314.0" cy="109.6" r="0.6"/><circle cx="310.5" cy="99.7" r="0.6"/><circle cx="311.6" cy="105.9" r="0.6"/><circle cx="308.2" cy="107.9" r="0.6"/><circle cx="314.2" cy="104.5" r="0.6"/><circle cx="306.6" cy="99.4" r="0.6"/><circle cx="314.4" cy="107.4" r="0.6"/><circle cx="298.0" cy="105.6" r="0.6"/><circle cx="311.8" cy="96.4" r="0.6"/><circle cx="302.0" cy="110.4" r="0.6"/><circle cx="307.1" cy="97.0" r="0.6"/><circle cx="308.5" cy="106.7" r="0.6"/><circle cx="304.2" cy="100.6" r="0.6"/><circle cx="308.4" cy="104.4" r="0.6"/><circle cx="315.8" cy="111.8" r="0.6"/><circle cx="310.5" cy="101.2" r="0.6"/><circle cx="305.7" cy="92.9" r="0.6"/><circle cx="308.0" cy="102.6" r="0.6"/><circle cx="305.4" cy="108.6" r="0.6"/><circle cx="313.6" cy="95.0" r="0.6"/><circle cx="310.0" cy="107.1" r="0.6"/><circle cx="305.6" cy="101.0" r="0.6"/><circle cx="315.6" cy="108.6" r="0.6"/><circle cx="317.3" cy="100.7" r="0.6"/><circle cx="303.8" cy="103.3" r="0.6"/><circle cx="311.9" cy="111.7" r="0.6"/><circle cx="316.6" cy="101.4" r="0.6"/><circle cx="302.1" cy="110.0" r="0.6"/><circle cx="312.1" cy="107.8" r="0.6"/><circle cx="314.5" cy="100.5" r="0.6"/><circle cx="301.4" cy="115.7" r="0.6"/><circle cx="309.6" cy="103.2" r="0.6"/><circle cx="303.0" cy="122.0" r="0.6"/><circle cx="317.2" cy="118.2" r="0.6"/></g>
<g fill="#377eb8" fill-opacity="0.7"><circle cx="397.1" cy="74.0" r="0.6"/><circle cx="398.9" cy="66.1" r="0.6"/><circle cx="405.9" cy="66.5" r="0.6"/><circle cx="388.0" cy="68.1" r="0.6"/><circle cx="384.7" cy="65.5" r="0.6"/><circle cx="391.7" cy="71.1" r="0.6"/><circle cx="400.7" cy="72.8" r="0.6"/><circle cx="392.7" cy="70.7" r="0.6"/><circle cx="388.1" cy="78.8" r="0.6"/><circle cx="395.3" cy="73.1" r="0.6"/><circle cx="391.5" cy="65.6" r="0.6"/><circle cx="389.1" cy="65.4" r="0.6"/><circle cx="391.2" cy="75.2" r="0.6"/><circle cx="390.5" cy="73.8" r="0.6"/><circle cx="398.4" cy="72.6" r="0.6"/><circle cx="398.5" cy="57.3" r="0.6"/><circle cx="395.6" cy="67.9" r="0.6"/><circle cx="401.1" cy="72.6" r="0.6"/><circle cx="392.6" cy="70.8" r="0.6"/><circle cx="395.4" cy="80.7" r="0.6"/><circle cx="392.4" cy="72.3" r="0.6"/><circle cx="391.6" cy="72.2" r="0.6"/><circle cx="396.3" cy="71.8" r="0.6"/><circle cx="393.7" cy="79.5" r="0.6"/><circle cx="400.0" cy="73.6" r="0.6"/><circle cx="391.6" cy="73.4" r="0.6"/><circle cx="395.3" cy="76.2" r="0.6"/><circle cx="397.5" cy="67.2" r="0.6"/><circle cx="397.6" cy="81.6" r="0.6"/><circle cx="397.5" cy="64.8" r="0.6"/><circle cx="392.5" cy="76.6" r="0.6"/><circle cx="401.1" cy="62.5" r="0.6"/><circle cx="400.2" cy="80.9" r="0.6"/><circle cx="402.4" cy="63.8" r="0.6"/><circle cx="395.1" cy="79.1" r="0.6"/><circle cx="398.9" cy="69.3" r="0.6"/><circle cx="390.2" cy="71.1" r="0.6"/><circle cx="397.8" cy="65.7" r="0.6"/><circle cx="394.2" cy="78.7" r="0.6"/><circle cx="401.7" cy="72.5" r="0.6"/><circle cx="401.9" cy="70.6" r="0.6"/><circle cx="391.8" cy="67.5" r="0.6"/><circle cx="389.5" cy="68.6" r="0.6"/><circle cx="393.2" cy="83.4" r="0.6"/><circle cx="399.9" cy="84.2" r="0.6"/><circle cx="389.8" cy="75.3" r="0.6"/><circle cx="392.6" cy="63.0" r="0.6"/><circle cx="397.8" cy="67.3" r="0.6"/><circle cx="395.3" cy="70.5" r="0.6"/><circle cx="391.3" cy="62.4" r="0.6"/><circle cx="393.5" cy="66.3" r="0.6"/><circle cx="395.6" cy="69.1" r="0.6"/><circle cx="396.3" cy="73.9" r="0.6"/><circle cx="400.7" cy="64.5" r="0.6"/><circle cx="390.7" cy="79.2" r="0.6"/><circle cx="399.3" cy="66.9" r="0.6"/><circle cx="392.6" cy="69.0" r="0.6"/><circle cx="397.0" cy="63.1" r="0.6"/><circle cx="394.5" cy="72.1" r="0.6"/><circle cx="400.4" cy="59.8" r="0.6"/><circle cx="391.0" cy="67.1" r="0.6"/><circle cx="399.4" cy="81.8" r="0.6"/><circle cx="403.0" cy="66.6" r="0.6"/><circle cx="395.5" cy="69.6" r="0.6"/><circle cx="394.2" cy="66.5" r="0.6"/><circle cx="395.3" cy="70.1" r="0.6"/><circle cx="397.2" cy="69.6" r="0.6"/><circle cx="391.4" cy="67.3" r="0.6"/><circle cx="395.3" cy="76.0" r="0.6"/><circle cx="396.3" cy="79.1" r="0.6"/><circle cx="394.2" cy="66.6" r="0.6"/><circle cx="407.1" cy="66.0" r="0.6"/><circle cx="386.9" cy="66.7" r="0.6"/><circle cx="395.5" cy="78.9" r="0.6"/><circle cx="393.1" cy="69.3" r="0.6"/><circle cx="395.9" cy="75.4" r="0.6"/><circle cx="390.4" cy="72.5" r="0.6"/><circle cx="391.7" cy="73.3" r="0.6"/><circle cx="397.1" cy="76.7" r="0.6"/><circle cx="403.8" cy="67.9" r="0.6"/><circle cx="390.1" cy="71.8" r="0.6"/><circle cx="395.0" cy="71.3" r="0.6"/><circle cx="399.0" cy="72.0" r="0.6"/><circle cx="399.3" cy="71.5" r="0.6"/><circle cx="394.3" cy="66.4" r="0.6"/><circle cx="398.3" cy="71.5" r="0.6"/><circle cx="401.0" cy="74.9" r="0.6"/><circle cx="392.2" cy="72.5" r="0.6"/><circle cx="394.3" cy="70.4" r="0.6"/><circle cx="387.9" cy="72.3" r="0.6"/><circle cx="395.2" cy="64.2" r="0.6"/><circle cx="396.2" cy="73.1" r="0.6"/><circle cx="389.1" cy="64.6" r="0.6"/><circle cx="396.0" cy="75.3" r="0.6"/><circle cx="396.1" cy="60.9" r="0.6"/><circle cx="389.2" cy="73.9" r="0.6"/><circle cx="389.5" cy="76.8" r="0.6"/><circle cx="400.1" cy="66.2" r="0.6"/><circle cx="395.8" cy="74.8" r="0.6"/><circle cx="396.9" cy="68.3" r="0.6"/><circle cx="393.5" cy="70.3" r="0.6"/><circle cx="402.5" cy="74.5" r="0.6"/><circle cx="400.3" cy="72.2" r="0.6"/><circle cx="397.3" cy="75.7" r="0.6"/><circle cx="393.7" cy="66.7" r="0.6"/><circle cx="396.5" cy="68.5" r="0.6"/><circle cx="391.8" cy="66.5" r="0.6"/><circle cx="387.6" cy="71.5" r="0.6"/><circle cx="389.8" cy="66.4" r="0.6"/><circle cx="392.9" cy="63.9" r="0.6"/><circle cx="397.1" cy="75.7" r="0.6"/><circle cx="388.9" cy="68.7" r="0.6"/><circle cx="393.3" cy="69.3" r="0.6"/><circle cx="394.8" cy="72.7" r="0.6"/><circle cx="391.3" cy="74.8" r="0.6"/><circle cx="384.9" cy="64.9" r="0.6"/><circle cx="399.0" cy="68.3" r="0.6"/><circle cx="396.2" cy="77.3" r="0.6"/><circle cx="402.9" cy="64.6" r="0.6"/><circle cx="390.7" cy="66.6" r="0.6"/><circle cx="390.9" cy="72.3" r="0.6"/><circle cx="384.9" cy="73.1" r="0.6"/><circle cx="394.2" cy="78.9" r="0.6"/><circle cx="386.8" cy="74.2" r="0.6"/><circle cx="392.5" cy="66.7" r="0.6"/></g>
<g fill="#4daf4a" fill-opacity="0.7"><circle cx="446.0" cy="94.1" r="0.6"/><circle cx="447.4" cy="105.9" r="0.6"/><circle cx="454.2" cy="104.2" r="0.6"/><circle cx="461.0" cy="103.7" r="0.6"/><circle cx="446.5" cy="103.8" r="0.6"/><circle cx="455.8" cy="107.0" r="0.6"/><circle cx="453.0" cy="112.1" r="0.6"/><circle cx="456.4" cy="113.6" r="0.6"/><circle cx="449.4" cy="106.9" r="0.6"/><circle cx="452.7" cy="105.6" r="0.6"/><circle cx="460.6" cy="107.8" r="0.6"/><circle cx="454.1" cy="98.2" r="0.6"/><circle cx="450.5" cy="108.2" r="0.6"/><circle cx="452.6" cy="99.4" r="0.6"/><circle cx="454.9" cy="105.0" r="0.6"/><circle cx="457.0" cy="109.1" r="0.6"/><circle cx="456.8" cy="100.2" r="0.6"/><circle cx="449.0" cy="110.7" r="0.6"/><circle cx="455.3" cy="103.7" r="0.6"/><circle cx="462.4" cy="107.8" r="0.6"/><circle cx="452.6" cy="108.4" r="0.6"/><circle cx="450.4" cy="110.0" r="0.6"/><circle cx="453.4" cy="105.1" r="0.6"/><circle cx="445.9" cy="99.5" r="0.6"/><circle cx="450.8" cy="92.8" r="0.6"/><circle cx="448.2" cy="105.6" r="0.6"/><circle cx="452.1" cy="118.2" r="0.6"/><circle cx="442.5" cy="104.2" r="0.6"/><circle cx="450.2" cy="107.0" r="0.6"/><circle cx="450.7" cy="100.7" r="0.6"/><circle cx="452.9" cy="103.6" r="0.6"/><circle cx="462.2" cy="103.2" r="0.6"/><circle cx="454.2" cy="110.6" r="0.6"/><circle cx="454.0" cy="104.2" r="0.6"/><circle cx="451.6" cy="104.1" r="0.6"/><circle cx="447.9" cy="105.7" r="0.6"/><circle cx="459.8" cy="113.8" r="0.6"/><circle cx="447.9" cy="110.2" r="0.6"/><circle cx="452.0" cy="104.4" r="0.6"/><circle cx="450.8" cy="110.3" r="0.6"/><circle cx="447.7" cy="100.1" r="0.6"/><circle cx="457.9" cy="95.0" r="0.6"/><circle cx="449.5" cy="107.8" r="0.6"/><circle cx="451.7" cy="103.5" r="0.6"/><circle cx="461.0" cy="113.1" r="0.6"/><circle cx="453.8" cy="111.3" r="0.6"/><circle cx="451.9" cy="103.5" r="0.6"/><circle cx="457.9" cy="113.5" r="0.6"/><circle cx="446.5" cy="114.5" r="0.6"/><circle cx="462.2" cy="111.2" r="0.6"/><circle cx="446.8" cy="110.0" r="0.6"/><circle cx="449.3" cy="112.8" r="0.6"/><circle cx="452.3" cy="105.1" r="0.6"/><circle cx="448.1" cy="105.2" r="0.6"/><circle cx="453.1" cy="97.5" r="0.6"/><circle cx="449.4" cy="99.7" r="0.6"/><circle cx="457.2" cy="106.5" r="0.6"/><circle cx="449.8" cy="111.6" r="0.6"/><circle cx="452.7" cy="104.1" r="0.6"/><circle cx="450.2" cy="112.3" r="0.6"/><circle cx="452.7" cy="95.2" r="0.6"/><circle cx="449.1" cy="103.7" r="0.6"/><circle cx="440.9" cy="110.9" r="0.6"/><circle cx="458.2" cy="100.0" r="0.6"/><circle cx="457.1" cy="108.3" r="0.6"/><circle cx="453.2" cy="100.2" r="0.6"/><circle cx="460.9" cy="107.4" r="0.6"/><circle cx="448.6" cy="110.1" r="0.6"/><circle cx="452.7" cy="100.3" r="0.6"/><circle cx="455.6" cy="107.5" r="0.6"/><circle cx="442.7" cy="105.1" r="0.6"/><circle cx="454.0" cy="110.6" r="0.6"/><circle cx="457.5" cy="106.2" r="0.6"/><circle cx="453.5" cy="98.7" r="0.6"/><circle cx="451.5" cy="101.1" r="0.6"/><circle cx="456.1" cy="112.4" r="0.6"/><circle cx="449.3" cy="92.4" r="0.6"/><circle cx="453.6" cy="111.3" r="0.6"/><circle cx="450.8" cy="96.9" r="0.6"/><circle cx="455.2" cy="100.4" r="0.6"/><circle cx="452.4" cy="104.1" r="0.6"/><circle cx="455.5" cy="97.2" r="0.6"/><circle cx="457.9" cy="107.1" r="0.6"/><circle cx="462.4" cy="99.2" r="0.6"/><circle cx="441.5" cy="104.5" r="0.6"/><circle cx="445.0" cy="105.3" r="0.6"/><circle cx="442.3" cy="109.9" r="0.6"/><circle cx="452.3" cy="109.2" r="0.6"/><circle cx="451.3" cy="97.1" r="0.6"/><circle cx="457.0" cy="112.5" r="0.6"/><circle cx="459.3" cy="102.1" r="0.6"/><circle cx="452.7" cy="108.5" r="0.6"/><circle cx="449.3" cy="105.4" r="0.6"/><circle cx="452.5" cy="110.6" r="0.6"/><circle cx="443.0" cy="114.1" r="0.6"/><circle cx="452.3" cy="105.9" r="0.6"/><circle cx="449.5" cy="111.6" r="0.6"/><circle cx="455.4" cy="106.0" r="0.6"/><circle cx="456.9" cy="102.1" r="0.6"/><circle cx="456.1" cy="100.5" r="0.6"/><circle cx="450.5" cy="116.2" r="0.6"/><circle cx="449.2" cy="101.1" r="0.6"/><circle cx="451.3" cy="106.7" r="0.6"/><circle cx="454.9" cy="106.3" r="0.6"/><circle cx="452.4" cy="106.0" r="0.6"/><circle cx="454.0" cy="110.9" r="0.6"/><circle cx="448.0" cy="109.5" r="0.6"/><circle cx="455.4" cy="90.1" r="0.6"/><circle cx="462.0" cy="112.1" r="0.6"/><circle cx="455.0" cy="101.2" r="0.6"/><circle cx="451.8" cy="101.9" r="0.6"/><circle cx="449.1" cy="112.3" r="0.6"/><circle cx="449.6" cy="110.3" r="0.6"/><circle cx="447.6" cy="110.3" r="0.6"/><circle cx="449.2" cy="105.2" r="0.6"/><circle cx="452.2" cy="107.9" r="0.6"/><circle cx="455.3" cy="104.7" r="0.6"/><circle cx="447.8" cy="97.3" r="0.6"/><circle cx="458.4" cy="108.1" r="0.6"/><circle cx="457.7" cy="101.8" r="0.6"/><circle cx="455.5" cy="111.4" r="0.6"/><circle cx="458.7" cy="105.7" r="0.6"/><circle cx="459.0" cy="98.2" r="0.6"/><circle cx="451.4" cy="100.0" r="0.6"/><circle cx="446.2" cy="106.5" r="0.6"/><circle cx="437.0" cy="110.0" r="0.6"/></g>
<g fill="#984ea3" fill-opacity="0.7"><circle cx="497.0" cy="106.5" r="0.6"/><circle cx="503.8" cy="101.9" r="0.6"/><circle cx="497.2" cy="100.8" r="0.6"/><circle cx="489.6" cy="108.3" r="0.6"/><circle cx="496.0" cy="110.2" r="0.6"/><circle cx="495.6" cy="112.2" r="0.6"/><circle cx="499.3" cy="110.3" r="0.6"/><circle cx="491.6" cy="100.5" r="0.6"/><circle cx="495.2" cy="115.3" r="0.6"/><circle cx="500.3" cy="101.5" r="0.6"/><circle cx="486.8" cy="98.7" r="0.6"/><circle cx="504.9" cy="101.5" r="0.6"/><circle cx="501.1" cy="94.7" r="0.6"/><circle cx="500.1" cy="110.5" r="0.6"/><circle cx="500.3" cy="98.6" r="0.6"/><circle cx="492.6" cy="107.8" r="0.6"/><circle cx="492.7" cy="96.0" r="0.6"/><circle cx="498.8" cy="97.8" r="0.6"/><circle cx="492.1" cy="103.1" r="0.6"/><circle cx="497.4" cy="96.2" r="0.6"/><circle cx="498.0" cy="111.4" r="0.6"/><circle cx="501.6" cy="110.4" r="0.6"/><circle cx="503.0" cy="104.6" r="0.6"/><circle cx="499.2" cy="98.5" r="0.6"/><circle cx="493.4" cy="99.8" r="0.6"/><circle cx="492.1" cy="115.7" r="0.6"/><circle cx="504.7" cy="95.2" r="0.6"/><circle cx="501.2" cy="104.8" r="0.6"/><circle cx="500.2" cy="106.7" r="0.6"/><circle cx="502.8" cy="97.4" r="0.6"/><circle cx="493.1" cy="101.8" r="0.6"/><circle cx="502.7" cy="104.5" r="0.6"/><circle cx="497.7" cy="103.0" r="0.6"/><circle cx="502.0" cy="106.6" r="0.6"/><circle cx="505.3" cy="115.6" r="0.6"/><circle cx="501.5" cy="99.5" r="0.6"/><circle cx="492.0" cy="103.8" r="0.6"/><circle cx="499.3" cy="104.8" r="0.6"/><circle cx="499.8" cy="104.8" r="0.6"/><circle cx="505.1" cy="104.4" r="0.6"/><circle cx="504.6" cy="105.8" r="0.6"/><circle cx="496.5" cy="105.2" r="0.6"/><circle cx="495.6" cy="105.3" r="0.6"/><circle cx="487.2" cy="104.9" r="0.6"/><circle cx="503.1" cy="111.0" r="0.6"/><circle cx="494.6" cy="98.3" r="0.6"/><circle cx="504.4" cy="96.5" r="0.6"/><circle cx="497.7" cy="102.6" r="0.6"/><circle cx="499.6" cy="109.7" r="0.6"/><circle cx="505.0" cy="93.1" r="0.6"/><circle cx="496.3" cy="92.4" r="0.6"/><circle cx="494.4" cy="95.3" r="0.6"/><circle cx="496.4" cy="101.0" r="0.6"/><circle cx="499.2" cy="107.4" r="0.6"/><circle cx="498.4" cy="108.1" r="0.6"/><circle cx="503.4" cy="103.2" r="0.6"/><circle cx="497.6" cy="99.5" r="0.6"/><circle cx="493.1" cy="108.1" r="0.6"/><circle cx="505.6" cy="104.9" r="0.6"/><circle cx="490.2" cy="99.6" r="0.6"/><circle cx="498.9" cy="104.6" r="0.6"/><circle cx="493.1" cy="104.9" r="0.6"/><circle cx="498.3" cy="95.7" r="0.6"/><circle cx="492.8" cy="107.5" r="0.6"/><circle cx="493.2" cy="102.8" r="0.6"/><circle cx="503.9" cy="108.7" r="0.6"/><circle cx="501.2" cy="96.9" r="0.6"/><circle cx="494.0" cy="103.8" r="0.6"/><circle cx="497.5" cy="108.5" r="0.6"/><circle cx="501.5" cy="110.2" r="0.6"/><circle cx="505.3" cy="103.6" r="0.6"/><circle cx="492.9" cy="109.4" r="0.6"/><circle cx="498.8" cy="105.4" r="0.6"/><circle cx="495.6" cy="103.5" r="0.6"/><circle cx="501.7" cy="106.2" r="0.6"/><circle cx="501.5" cy="101.6" r="0.6"/><circle cx="498.2" cy="101.8" r="0.6"/><circle cx="496.8" cy="101.9" r="0.6"/><circle cx="506.5" cy="110.7" r="0.6"/><circle cx="501.1" cy="107.0" r="0.6"/><circle cx="495.4" cy="95.9" r="0.6"/><circle cx="499.9" cy="99.1" r="0.6"/><circle cx="495.3" cy="99.0" r="0.6"/><circle cx="495.7" cy="101.3" r="0.6"/><circle cx="504.6" cy="112.9" r="0.6"/><circle cx="498.1" cy="107.7" r="0.6"/><circle cx="497.9" cy="106.1" r="0.6"/><circle cx="495.9" cy="106.6" r="0.6"/><circle cx="507.4" cy="105.3" r="0.6"/><circle cx="498.2" cy="107.5" r="0.6"/><circle cx="498.9" cy="109.0" r="0.6"/><circle cx="492.5" cy="100.6" r="0.6"/><circle cx="504.6" cy="105.9" r="0.6"/><circle cx="494.4" cy="96.4" r="0.6"/><circle cx="507.2" cy="110.4" r="0.6"/><circle cx="501.0" cy="95.9" r="0.6"/><circle cx="494.8" cy="97.6" r="0.6"/><circle cx="488.3" cy="100.9" r="0.6"/><circle cx="495.9" cy="116.5" r="0.6"/><circle cx="491.2" cy="110.0" r="0.6"/><circle cx="499.7" cy="108.4" r="0.6"/><circle cx="498.7" cy="110.0" r="0.6"/><circle cx="497.5" cy="111.1" r="0.6"/><circle cx="501.8" cy="98.8" r="0.6"/><circle cx="497.0" cy="115.0" r="0.6"/><circle cx="506.9" cy="99.5" r="0.6"/><circle cx="499.9" cy="114.3" r="0.6"/><circle cx="500.8" cy="100.8" r="0.6"/><circle cx="501.6" cy="105.5" r="0.6"/><circle cx="489.8" cy="107.4" r="0.6"/><circle cx="499.2" cy="108.4" r="0.6"/><circle cx="507.5" cy="115.2" r="0.6"/><circle cx="506.4" cy="114.3" r="0.6"/><circle cx="493.4" cy="98.5" r="0.6"/><circle cx="500.2" cy="104.6" r="0.6"/><circle cx="500.6" cy="101.9" r="0.6"/><circle cx="501.3" cy="114.0" r="0.6"/><circle cx="497.7" cy="104.1" r="0.6"/><circle cx="495.7" cy="92.5" r="0.6"/><circle cx="497.2" cy="103.3" r="0.6"/><circle cx="499.6" cy="100.5" r="0.6"/><circle cx="505.4" cy="110.7" r="0.6"/><circle cx="495.4" cy="108.6" r="0.6"/><circle cx="500.7" cy="107.1" r="0.6"/><circle cx="498.4" cy="111.0" r="0.6"/></g>
<g fill="#999999" fill-opacity="0.7"><circle cx="413.1" cy="147.6" r="0.6"/><circle cx="411.9" cy="154.6" r="0.6"/><circle cx="414.8" cy="156.4" r="0.6"/><circle cx="422.7" cy="150.9" r="0.6"/><circle cx="412.9" cy="135.9" r="0.6"/><circle cx="418.7" cy="153.8" r="0.6"/><circle cx="417.4" cy="145.9" r="0.6"/><circle cx="422.5" cy="150.5" r="0.6"/><circle cx="420.4" cy="155.5" r="0.6"/><circle cx="422.0" cy="154.8" r="0.6"/><circle cx="409.1" cy="153.0" r="0.6"/><circle cx="416.6" cy="147.7" r="0.6"/><circle cx="412.6" cy="145.1" r="0.6"/><circle cx="414.7" cy="149.1" r="0.6"/><circle cx="417.3" cy="139.6" r="0.6"/><circle cx="412.5" cy="154.7" r="0.6"/><circle cx="422.5" cy="149.1" r="0.6"/><circle cx="414.6" cy="161.9" r="0.6"/><circle cx="411.9" cy="156.9" r="0.6"/><circle cx="421.3" cy="153.0" r="0.6"/><circle cx="422.4" cy="154.8" r="0.6"/><circle cx="416.3" cy="155.2" r="0.6"/><circle cx="429.8" cy="152.0" r="0.6"/><circle cx="422.3" cy="162.2" r="0.6"/><circle cx="412.6" cy="150.8" r="0.6"/><circle cx="412.3" cy="151.7" r="0.6"/><circle cx="414.6" cy="157.9" r="0.6"/><circle cx="415.8" cy="155.1" r="0.6"/><circle cx="418.2" cy="153.6" r="0.6"/><circle cx="412.6" cy="156.7" r="0.6"/><circle cx="416.7" cy="149.7" r="0.6"/><circle cx="413.2" cy="153.7" r="0.6"/><circle cx="414.7" cy="146.6" r="0.6"/><circle cx="417.0" cy="137.6" r="0.6"/><circle cx="423.1" cy="148.2" r="0.6"/><circle cx="422.0" cy="143.7" r="0.6"/><circle cx="406.9" cy="145.3" r="0.6"/><circle cx="419.1" cy="158.4" r="0.6"/><circle cx="424.1" cy="157.5" r="0.6"/><circle cx="413.3" cy="147.7" r="0.6"/><circle cx="419.0" cy="155.2" r="0.6"/><circle cx="412.3" cy="145.2" r="0.6"/><circle cx="410.4" cy="157.9" r="0.6"/><circle cx="412.4" cy="152.6" r="0.6"/><circle cx="417.5" cy="153.7" r="0.6"/><circle cx="409.4" cy="151.2" r="0.6"/><circle cx="421.6" cy="154.5" r="0.6"/><circle cx="415.3" cy="155.4" r="0.6"/><circle cx="418.4" cy="149.0" r="0.6"/><circle cx="417.6" cy="164.4" r="0.6"/><circle cx="414.8" cy="141.9" r="0.6"/><circle cx="420.7" cy="155.7" r="0.6"/><circle cx="419.8" cy="150.3" r="0.6"/><circle cx="422.3" cy="162.7" r="0.6"/><circle cx="424.6" cy="138.7" r="0.6"/><circle cx="413.0" cy="152.5" r="0.6"/><circle cx="421.3" cy="146.4" r="0.6"/><circle cx="412.2" cy="158.0" r="0.6"/><circle cx="415.6" cy="152.9" r="0.6"/><circle cx="411.9" cy="144.5" r="0.6"/><circle cx="415.0" cy="151.3" r="0.6"/><circle cx="421.4" cy="148.0" r="0.6"/><circle cx="421.2" cy="148.3" r="0.6"/><circle cx="412.8" cy="148.5" r="0.6"/><circle cx="414.8" cy="143.6" r="0.6"/><circle cx="407.8" cy="154.0" r="0.6"/><circle cx="418.3" cy="155.3" r="0.6"/><circle cx="409.2" cy="148.9" r="0.6"/><circle cx="410.3" cy="158.8" r="0.6"/><circle cx="425.7" cy="154.6" r="0.6"/><circle cx="424.3" cy="142.3" r="0.6"/><circle cx="416.5" cy="152.3" r="0.6"/><circle cx="420.0" cy="151.6" r="0.6"/><circle cx="420.9" cy="152.8" r="0.6"/><circle cx="415.8" cy="158.5" r="0.6"/><circle cx="415.2" cy="155.5" r="0.6"/><circle cx="420.4" cy="144.7" r="0.6"/><circle cx="415.3" cy="163.7" r="0.6"/><circle cx="417.7" cy="155.5" r="0.6"/><circle cx="415.4" cy="158.0" r="0.6"/><circle cx="418.0" cy="157.4" r="0.6"/><circle cx="422.2" cy="146.6" r="0.6"/><circle cx="417.8" cy="155.5" r="0.6"/><circle cx="412.7" cy="152.0" r="0.6"/><circle cx="416.7" cy="155.5" r="0.6"/><circle cx="412.5" cy="154.2" r="0.6"/><circle cx="422.3" cy="148.7" r="0.6"/><circle cx="415.7" cy="156.0" r="0.6"/><circle cx="415.2" cy="154.6" r="0.6"/><circle cx="423.8" cy="143.8" r="0.6"/><circle cx="420.1" cy="158.9" r="0.6"/><circle cx="410.5" cy="152.8" r="0.6"/><circle cx="420.1" cy="149.3" r="0.6"/><circle cx="419.0" cy="145.4" r="0.6"/><circle cx="417.9" cy="147.1" r="0.6"/><circle cx="421.2" cy="151.6" r="0.6"/><circle cx="417.9" cy="157.1" r="0.6"/><circle cx="419.6" cy="147.9" r="0.6"/><circle cx="416.4" cy="147.4" r="0.6"/><circle cx="420.4" cy="159.1" r="0.6"/><circle cx="427.4" cy="156.4" r="0.6"/><circle cx="414.0" cy="156.0" r="0.6"/><circle cx="412.5" cy="143.4" r="0.6"/><circle cx="412.5" cy="153.7" r="0.6"/><circle cx="409.5" cy="154.6" r="0.6"/><circle cx="417.0" cy="161.5" r="0.6"/><circle cx="417.6" cy="149.2" r="0.6"/><circle cx="412.1" cy="146.6" r="0.6"/><circle cx="418.7" cy="143.2" r="0.6"/><circle cx="404.3" cy="148.1" r="0.6"/><circle cx="416.6" cy="149.8" r="0.6"/><circle cx="415.6" cy="146.1" r="0.6"/><circle cx="409.7" cy="159.7" r="0.6"/><circle cx="421.0" cy="153.3" r="0.6"/><circle cx="415.0" cy="146.6" r="0.6"/><circle cx="416.1" cy="154.8" r="0.6"/><circle cx="417.8" cy="151.0" r="0.6"/><circle cx="420.3" cy="147.2" r="0.6"/><circle cx="413.0" cy="148.9" r="0.6"/><circle cx="416.4" cy="161.5" r="0.6"/><circle cx="428.7" cy="144.8" r="0.6"/><circle cx="413.3" cy="151.0" r="0.6"/><circle cx="407.5" cy="147.4" r="0.6"/><circle cx="423.9" cy="146.5" r="0.6"/><circle cx="414.8" cy="157.2" r="0.6"/><circle cx="429.3" cy="136.8" r="0.6"/><circle cx="418.5" cy="169.4" r="0.6"/></g>
<g fill="#ffff33" fill-opacity="0.7"><circle cx="480.5" cy="174.9" r="0.6"/><circle cx="483.4" cy="194.9" r="0.6"/><circle cx="483.2" cy="184.3" r="0.6"/><circle cx="480.3" cy="183.2" r="0.6"/><circle cx="483.3" cy="185.3" r="0.6"/><circle cx="485.5" cy="177.8" r="0.6"/><circle cx="490.4" cy="191.9" r="0.6"/><circle cx="481.7" cy="182.6" r="0.6"/><circle cx="483.0" cy="186.2" r="0.6"/><circle cx="493.1" cy="181.0" r="0.6"/><circle cx="489.5" cy="189.3" r="0.6"/><circle cx="480.8" cy="188.1" r="0.6"/><circle cx="491.1" cy="183.1" r="0.6"/><circle cx="487.3" cy="179.3" r="0.6"/><circle cx="482.1" cy="184.9" r="0.6"/><circle cx="480.1" cy="179.3" r="0.6"/><circle cx="481.4" cy="186.5" r="0.6"/><circle cx="488.7" cy="185.3" r="0.6"/><circle cx="482.1" cy="188.2" r="0.6"/><circle cx="486.4" cy="177.3" r="0.6"/><circle cx="486.5" cy="184.3" r="0.6"/><circle cx="480.2" cy="181.5" r="0.6"/><circle cx="477.0" cy="179.6" r="0.6"/><circle cx="482.0" cy="183.7" r="0.6"/><circle cx="487.4" cy="186.2" r="0.6"/><circle cx="484.2" cy="180.9" r="0.6"/><circle cx="479.3" cy="183.6" r="0.6"/><circle cx="489.4" cy="187.1" r="0.6"/><circle cx="474.4" cy="185.0" r="0.6"/><circle cx="483.1" cy="185.9" r="0.6"/><circle cx="486.4" cy="190.6" r="0.6"/><circle cx="492.4" cy="187.7" r="0.6"/><circle cx="486.0" cy="177.6" r="0.6"/><circle cx="491.9" cy="184.3" r="0.6"/><circle cx="489.7" cy="181.8" r="0.6"/><circle cx="488.6" cy="191.7" r="0.6"/><circle cx="487.4" cy="182.2" r="0.6"/><circle cx="489.3" cy="183.7" r="0.6"/><circle cx="476.9" cy="188.0" r="0.6"/><circle cx="478.8" cy="181.0" r="0.6"/><circle cx="492.7" cy="190.5" r="0.6"/><circle cx="483.6" cy="180.1" r="0.6"/><circle cx="483.5" cy="187.3" r="0.6"/><circle cx="480.0" cy="185.4" r="0.6"/><circle cx="473.1" cy="187.0" r="0.6"/><circle cx="476.5" cy="177.1" r="0.6"/><circle cx="486.8" cy="185.3" r="0.6"/><circle cx="481.8" cy="178.7" r="0.6"/><circle cx="491.7" cy="173.7" r="0.6"/><circle cx="483.5" cy="181.4" r="0.6"/><circle cx="484.4" cy="179.6" r="0.6"/><circle cx="483.1" cy="181.8" r="0.6"/><circle cx="479.0" cy="182.3" r="0.6"/><circle cx="484.2" cy="183.1" r="0.6"/><circle cx="488.6" cy="179.4" r="0.6"/><circle cx="487.9" cy="183.0" r="0.6"/><circle cx="482.5" cy="191.6" r="0.6"/><circle cx="488.2" cy="177.4" r="0.6"/><circle cx="485.8" cy="186.1" r="0.6"/><circle cx="493.4" cy="182.5" r="0.6"/><circle cx="482.8" cy="182.6" r="0.6"/><circle cx="490.1" cy="177.6" r="0.6"/><circle cx="478.2" cy="176.6" r="0.6"/><circle cx="482.1" cy="185.5" r="0.6"/><circle cx="480.5" cy="192.1" r="0.6"/><circle cx="487.8" cy="180.2" r="0.6"/><circle cx="480.5" cy="180.1" r="0.6"/><circle cx="484.2" cy="172.8" r="0.6"/><circle cx="487.7" cy="188.2" r="0.6"/><circle cx="474.6" cy="173.7" r="0.6"/><circle cx="480.6" cy="180.8" r="0.6"/><circle cx="481.0" cy="174.8" r="0.6"/><circle cx="480.8" cy="176.1" r="0.6"/><circle cx="478.2" cy="184.1" r="0.6"/><circle cx="474.2" cy="184.3" r="0.6"/><circle cx="475.9" cy="175.1" r="0.6"/><circle cx="477.0" cy="180.2" r="0.6"/><circle cx="488.5" cy="183.6" r="0.6"/><circle cx="489.3" cy="194.2" r="0.6"/><circle cx="479.6" cy="179.6" r="0.6"/><circle cx="483.7" cy="173.2" r="0.6"/><circle cx="489.3" cy="181.2" r="0.6"/><circle cx="485.7" cy="180.9" r="0.6"/><circle cx="485.2" cy="173.5" r="0.6"/><circle cx="492.3" cy="180.0" r="0.6"/><circle cx="480.5" cy="190.6" r="0.6"/><circle cx="485.2" cy="186.9" r="0.6"/><circle cx="483.6" cy="194.0" r="0.6"/><circle cx="483.5" cy="177.8" r="0.6"/><circle cx="485.0" cy="178.5" r="0.6"/><circle cx="485.0" cy="183.1" r="0.6"/><circle cx="488.0" cy="186.3" r="0.6"/><circle cx="487.0" cy="189.5" r="0.6"/><circle cx="487.9" cy="178.4" r="0.6"/><circle cx="483.4" cy="181.3" r="0.6"/><circle cx="487.5" cy="178.7" r="0.6"/><circle cx="486.1" cy="193.7" r="0.6"/><circle cx="485.7" cy="180.7" r="0.6"/><circle cx="489.6" cy="180.5" r="0.6"/><circle cx="486.8" cy="183.8" r="0.6"/><circle cx="482.0" cy="192.8" r="0.6"/><circle cx="475.0" cy="188.5" r="0.6"/><circle cx="486.2" cy="185.3" r="0.6"/><circle cx="483.7" cy="191.5" r="0.6"/><circle cx="486.2" cy="181.7" r="0.6"/><circle cx="486.6" cy="185.9" r="0.6"/><circle cx="479.8" cy="180.7" r="0.6"/><circle cx="481.9" cy="183.1" r="0.6"/><circle cx="486.9" cy="189.9" r="0.6"/><circle cx="483.9" cy="180.1" r="0.6"/><circle cx="479.8" cy="182.1" r="0.6"/><circle cx="488.8" cy="180.3" r="0.6"/><circle cx="486.3" cy="180.5" r="0.6"/><circle cx="481.2" cy="183.8" r="0.6"/><circle cx="485.8" cy="186.7" r="0.6"/><circle cx="485.5" cy="179.0" r="0.6"/><circle cx="480.1" cy="172.6" r="0.6"/><circle cx="477.1" cy="178.8" r="0.6"/><circle cx="490.0" cy="180.5" r="0.6"/><circle cx="490.0" cy="179.4" r="0.6"/><circle cx="486.9" cy="184.2" r="0.6"/><circle cx="484.6" cy="179.4" r="0.6"/><circle cx="484.4" cy="189.6" r="0.6"/><circle cx="484.4" cy="178.1" r="0.6"/><circle cx="478.5" cy="182.9" r="0.6"/></g>
<g fill="#a65628" fill-opacity="0.7"><circle cx="446.1" cy="215.1" r="0.6"/><circle cx="461.0" cy="217.8" r="0.6"/><circle cx="456.5" cy="222.1" r="0.6"/><circle cx="452.0" cy="216.6" r="0.6"/><circle cx="449.9" cy="217.7" r="0.6"/><circle cx="454.5" cy="217.8" r="0.6"/><circle cx="452.4" cy="220.2" r="0.6"/><circle cx="450.9" cy="219.3" r="0.6"/><circle cx="460.7" cy="214.1" r="0.6"/><circle cx="455.6" cy="210.8" r="0.6"/><circle cx="452.1" cy="220.4" r="0.6"/><circle cx="449.5" cy="212.7" r="0.6"/><circle cx="445.5" cy="211.5" r="0.6"/><circle cx="457.9" cy="221.7" r="0.6"/><circle cx="457.1" cy="210.3" r="0.6"/><circle cx="453.0" cy="220.9" r="0.6"/><circle cx="456.9" cy="217.8" r="0.6"/><circle cx="458.7" cy="211.1" r="0.6"/><circle cx="455.8" cy="219.2" r="0.6"/><circle cx="449.6" cy="213.5" r="0.6"/><circle cx="460.4" cy="219.3" r="0.6"/><circle cx="448.6" cy="215.8" r="0.6"/><circle cx="453.4" cy="215.4" r="0.6"/><circle cx="458.3" cy="221.4" r="0.6"/><circle cx="460.6" cy="210.7" r="0.6"/><circle cx="458.3" cy="211.5" r="0.6"/><circle cx="458.6" cy="220.6" r="0.6"/><circle cx="461.7" cy="221.4" r="0.6"/><circle cx="453.9" cy="219.0" r="0.6"/><circle cx="458.3" cy="207.7" r="0.6"/><circle cx="449.5" cy="217.8" r="0.6"/><circle cx="457.0" cy="220.3" r="0.6"/><circle cx="449.2" cy="223.4" r="0.6"/><circle cx="454.2" cy="219.6" r="0.6"/><circle cx="456.4" cy="213.4" r="0.6"/><circle cx="449.5" cy="227.0" r="0.6"/><circle cx="454.7" cy="226.0" r="0.6"/><circle cx="449.1" cy="213.0" r="0.6"/><circle cx="450.4" cy="222.1" r="0.6"/><circle cx="453.8" cy="211.7" r="0.6"/><circle cx="458.0" cy="211.1" r="0.6"/><circle cx="446.4" cy="211.9" r="0.6"/><circle cx="449.5" cy="211.0" r="0.6"/><circle cx="451.1" cy="208.1" r="0.6"/><circle cx="453.6" cy="211.7" r="0.6"/><circle cx="455.3" cy="218.0" r="0.6"/><circle cx="454.0" cy="212.9" r="0.6"/><circle cx="452.6" cy="212.6" r="0.6"/><circle cx="452.9" cy="220.9" r="0.6"/><circle cx="458.8" cy="223.5" r="0.6"/><circle cx="454.6" cy="222.0" r="0.6"/><circle cx="446.5" cy="224.4" r="0.6"/><circle cx="458.4" cy="211.7" r="0.6"/><circle cx="454.5" cy="218.0" r="0.6"/><circle cx="452.0" cy="213.2" r="0.6"/><circle cx="451.2" cy="216.0" r="0.6"/><circle cx="452.0" cy="210.8" r="0.6"/><circle cx="455.8" cy="219.4" r="0.6"/><circle cx="455.1" cy="219.1" r="0.6"/><circle cx="462.7" cy="219.9" r="0.6"/><circle cx="453.4" cy="212.7" r="0.6"/><circle cx="455.3" cy="221.9" r="0.6"/><circle cx="450.4" cy="219.2" r="0.6"/><circle cx="450.5" cy="207.9" r="0.6"/><circle cx="451.5" cy="224.4" r="0.6"/><circle cx="454.2" cy="209.8" r="0.6"/><circle cx="455.6" cy="219.4" r="0.6"/><circle cx="455.9" cy="209.9" r="0.6"/><circle cx="458.0" cy="212.5" r="0.6"/><circle cx="462.7" cy="207.3" r="0.6"/><circle cx="449.8" cy="214.5" r="0.6"/><circle cx="448.2" cy="215.4" r="0.6"/><circle cx="448.8" cy="210.2" r="0.6"/><circle cx="455.9" cy="206.6" r="0.6"/><circle cx="457.4" cy="215.7" r="0.6"/><circle cx="446.0" cy="220.4" r="0.6"/><circle cx="460.2" cy="214.3" r="0.6"/><circle cx="461.2" cy="218.0" r="0.6"/><circle cx="455.0" cy="221.7" r="0.6"/><circle cx="449.6" cy="219.5" r="0.6"/><circle cx="451.4" cy="217.0" r="0.6"/><circle cx="454.6" cy="209.4" r="0.6"/><circle cx="453.9" cy="212.2" r="0.6"/><circle cx="454.4" cy="216.5" r="0.6"/><circle cx="448.4" cy="211.3" r="0.6"/><circle cx="461.2" cy="225.5" r="0.6"/><circle cx="453.3" cy="218.3" r="0.6"/><circle cx="456.1" cy="210.2" r="0.6"/><circle cx="458.6" cy="216.9" r="0.6"/><circle cx="452.8" cy="223.0" r="0.6"/><circle cx="455.2" cy="208.5" r="0.6"/><circle cx="451.6" cy="213.0" r="0.6"/><circle cx="449.7" cy="212.4" r="0.6"/><circle cx="450.7" cy="212.8" r="0.6"/><circle cx="461.6" cy="217.3" r="0.6"/><circle cx="457.8" cy="221.7" r="0.6"/><circle cx="461.3" cy="217.5" r="0.6"/><circle cx="454.3" cy="218.4" r="0.6"/><circle cx="448.6" cy="213.2" r="0.6"/><circle cx="459.8" cy="220.3" r="0.6"/><circle cx="453.3" cy="213.4" r="0.6"/><circle cx="456.0" cy="207.3" r="0.6"/><circle cx="449.5" cy="225.8" r="0.6"/><circle cx="456.0" cy="217.5" r="0.6"/><circle cx="451.0" cy="215.6" r="0.6"/><circle cx="450.1" cy="218.7" r="0.6"/><circle cx="455.6" cy="216.2" r="0.6"/><circle cx="461.2" cy="220.1" r="0.6"/><circle cx="447.6" cy="220.5" r="0.6"/><circle cx="462.9" cy="216.7" r="0.6"/><circle cx="459.8" cy="218.8" r="0.6"/><circle cx="450.8" cy="213.5" r="0.6"/><circle cx="452.2" cy="209.2" r="0.6"/><circle cx="453.9" cy="212.3" r="0.6"/><circle cx="461.7" cy="217.0" r="0.6"/><circle cx="448.9" cy="209.5" r="0.6"/><circle cx="459.8" cy="216.2" r="0.6"/><circle cx="448.4" cy="213.3" r="0.6"/><circle cx="455.1" cy="216.8" r="0.6"/><circle cx="463.5" cy="218.8" r="0.6"/><circle cx="451.8" cy="205.8" r="0.6"/><circle cx="456.7" cy="219.0" r="0.6"/><circle cx="453.7" cy="221.6" r="0.6"/><circle cx="454.5" cy="218.1" r="0.6"/><circle cx="464.2" cy="210.5" r="0.6"/><circle cx="439.2" cy="215.2" r="0.6"/></g>
<g fill="#f781bf" fill-opacity="0.7"><circle cx="369.2" cy="227.4" r="0.6"/><circle cx="368.1" cy="233.7" r="0.6"/><circle cx="363.6" cy="230.7" r="0.6"/><circle cx="365.0" cy="226.7" r="0.6"/><circle cx="374.0" cy="231.9" r="0.6"/><circle cx="366.4" cy="227.5" r="0.6"/><circle cx="373.4" cy="225.6" r="0.6"/><circle cx="375.0" cy="239.0" r="0.6"/><circle cx="358.5" cy="228.2" r="0.6"/><circle cx="375.4" cy="232.3" r="0.6"/><circle cx="364.5" cy="235.5" r="0.6"/><circle cx="366.0" cy="233.8" r="0.6"/><circle cx="364.5" cy="236.5" r="0.6"/><circle cx="371.6" cy="235.6" r="0.6"/><circle cx="363.5" cy="228.2" r="0.6"/><circle cx="362.5" cy="231.6" r="0.6"/><circle cx="360.4" cy="238.6" r="0.6"/><circle cx="361.2" cy="229.3" r="0.6"/><circle cx="368.3" cy="228.2" r="0.6"/><circle cx="375.1" cy="232.5" r="0.6"/><circle cx="372.1" cy="232.2" r="0.6"/><circle cx="368.4" cy="237.7" r="0.6"/><circle cx="368.9" cy="228.1" r="0.6"/><circle cx="363.1" cy="240.7" r="0.6"/><circle cx="368.7" cy="233.4" r="0.6"/><circle cx="370.0" cy="239.7" r="0.6"/><circle cx="368.6" cy="225.6" r="0.6"/><circle cx="361.6" cy="231.3" r="0.6"/><circle cx="360.5" cy="237.0" r="0.6"/><circle cx="373.6" cy="219.7" r="0.6"/><circle cx="365.1" cy="225.7" r="0.6"/><circle cx="378.2" cy="227.3" r="0.6"/><circle cx="373.4" cy="242.1" r="0.6"/><circle cx="367.1" cy="232.7" r="0.6"/><circle cx="365.0" cy="229.3" r="0.6"/><circle cx="359.1" cy="223.7" r="0.6"/><circle cx="367.4" cy="230.2" r="0.6"/><circle cx="356.6" cy="233.3" r="0.6"/><circle cx="370.3" cy="234.2" r="0.6"/><circle cx="364.8" cy="221.8" r="0.6"/><circle cx="364.2" cy="228.9" r="0.6"/><circle cx="365.5" cy="225.4" r="0.6"/><circle cx="365.7" cy="224.9" r="0.6"/><circle cx="360.9" cy="235.9" r="0.6"/><circle cx="364.6" cy="224.4" r="0.6"/><circle cx="369.1" cy="230.8" r="0.6"/><circle cx="363.2" cy="229.5" r="0.6"/><circle cx="371.2" cy="225.1" r="0.6"/><circle cx="368.5" cy="238.2" r="0.6"/><circle cx="369.1" cy="237.1" r="0.6"/><circle cx="360.8" cy="230.0" r="0.6"/><circle cx="376.2" cy="233.3" r="0.6"/><circle cx="373.5" cy="230.3" r="0.6"/><circle cx="369.2" cy="235.7" r="0.6"/><circle cx="373.2" cy="231.2" r="0.6"/><circle cx="372.5" cy="226.5" r="0.6"/><circle cx="361.4" cy="225.3" r="0.6"/><circle cx="367.5" cy="229.6" r="0.6"/><circle cx="362.4" cy="230.1" r="0.6"/><circle cx="368.0" cy="236.4" r="0.6"/><circle cx="368.7" cy="223.6" r="0.6"/><circle cx="365.2" cy="237.4" r="0.6"/><circle cx="372.6" cy="225.9" r="0.6"/><circle cx="367.3" cy="227.4" r="0.6"/><circle cx="364.2" cy="228.9" r="0.6"/><circle cx="368.5" cy="231.7" r="0.6"/><circle cx="364.8" cy="225.2" r="0.6"/><circle cx="363.8" cy="245.4" r="0.6"/><circle cx="368.7" cy="243.5" r="0.6"/><circle cx="374.2" cy="236.1" r="0.6"/><circle cx="368.1" cy="223.0" r="0.6"/><circle cx="368.5" cy="242.0" r="0.6"/><circle cx="361.8" cy="228.9" r="0.6"/><circle cx="372.9" cy="231.3" r="0.6"/><circle cx="371.9" cy="231.0" r="0.6"/><circle cx="368.8" cy="229.9" r="0.6"/><circle cx="365.7" cy="230.5" r="0.6"/><circle cx="369.7" cy="230.8" r="0.6"/><circle cx="358.1" cy="231.5" r="0.6"/><circle cx="373.7" cy="229.8" r="0.6"/><circle cx="361.1" cy="229.6" r="0.6"/><circle cx="360.8" cy="237.8" r="0.6"/><circle cx="368.0" cy="232.7" r="0.6"/><circle cx="365.7" cy="234.3" r="0.6"/><circle cx="367.0" cy="238.4" r="0.6"/><circle cx="370.1" cy="223.2" r="0.6"/><circle cx="362.4" cy="230.0" r="0.6"/><circle cx="369.4" cy="229.5" r="0.6"/><circle cx="362.1" cy="226.3" r="0.6"/><circle cx="365.9" cy="239.0" r="0.6"/><circle cx="362.8" cy="227.5" r="0.6"/><circle cx="368.5" cy="231.9" r="0.6"/><circle cx="368.7" cy="233.4" r="0.6"/><circle cx="369.8" cy="237.2" r="0.6"/><circle cx="365.8" cy="239.3" r="0.6"/><circle cx="367.0" cy="229.0" r="0.6"/><circle cx="365.2" cy="235.6" r="0.6"/><circle cx="372.0" cy="227.1" r="0.6"/><circle cx="370.6" cy="233.8" r="0.6"/><circle cx="363.7" cy="231.5" r="0.6"/><circle cx="370.5" cy="240.8" r="0.6"/><circle cx="368.7" cy="229.5" r="0.6"/><circle cx="365.3" cy="228.2" r="0.6"/><circle cx="371.9" cy="227.4" r="0.6"/><circle cx="366.3" cy="227.8" r="0.6"/><circle cx="368.5" cy="235.1" r="0.6"/><circle cx="372.5" cy="239.9" r="0.6"/><circle cx="366.4" cy="227.4" r="0.6"/><circle cx="372.0" cy="234.1" r="0.6"/><circle cx="368.1" cy="230.9" r="0.6"/><circle cx="369.2" cy="226.3" r="0.6"/><circle cx="365.1" cy="231.0" r="0.6"/><circle cx="369.1" cy="234.5" r="0.6"/><circle cx="365.7" cy="232.1" r="0.6"/><circle cx="368.3" cy="236.3" r="0.6"/><circle cx="370.0" cy="227.4" r="0.6"/><circle cx="370.5" cy="243.5" r="0.6"/><circle cx="360.9" cy="235.0" r="0.6"/><circle cx="365.7" cy="223.7" r="0.6"/><circle cx="368.9" cy="237.6" r="0.6"/><circle cx="362.2" cy="232.0" r="0.6"/><circle cx="372.4" cy="228.7" r="0.6"/><circle cx="369.1" cy="232.2" r="0.6"/><circle cx="360.9" cy="236.4" r="0.6"/><circle cx="365.3" cy="236.4" r="0.6"/></g>
<text x="138.8" y="294.3" text-anchor="middle" class="c">(a)</text>
<text x="408.5" y="294.3" text-anchor="middle" class="c">(b)</text>
</svg>
</body></html>
